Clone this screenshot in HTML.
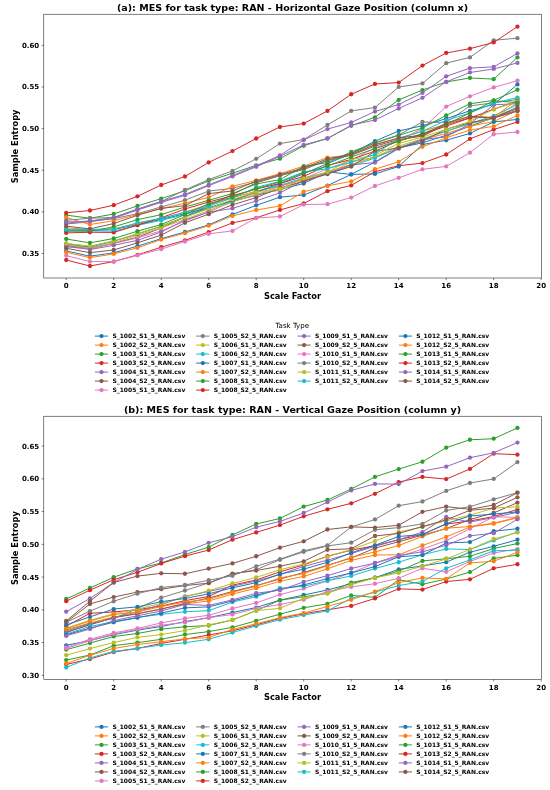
<!DOCTYPE html>
<html><head><meta charset="utf-8"><title>MES RAN</title>
<style>html,body{margin:0;padding:0;background:#fff}svg{display:block}</style></head><body>
<svg width="550" height="790" viewBox="0 0 550 790" style="font-family:'DejaVu Sans','Liberation Sans',sans-serif;fill:#000">
<rect width="550" height="790" fill="#fff"/>
<polyline points="66.20,229.92 89.95,230.75 113.70,229.50 137.45,224.50 161.20,219.50 184.95,213.67 208.70,207.83 232.45,201.16 256.20,195.33 279.95,189.50 303.70,183.49 327.45,171.91 351.20,174.41 374.95,161.99 398.70,147.99 422.45,142.82 446.20,135.32 469.95,126.15 493.70,117.81 517.45,110.31" fill="none" stroke="#1f77b4" stroke-width="1.0" stroke-linejoin="round"/>
<g fill="#1f77b4"><circle cx="66.20" cy="229.92" r="2.15"/><circle cx="89.95" cy="230.75" r="2.15"/><circle cx="113.70" cy="229.50" r="2.15"/><circle cx="137.45" cy="224.50" r="2.15"/><circle cx="161.20" cy="219.50" r="2.15"/><circle cx="184.95" cy="213.67" r="2.15"/><circle cx="208.70" cy="207.83" r="2.15"/><circle cx="232.45" cy="201.16" r="2.15"/><circle cx="256.20" cy="195.33" r="2.15"/><circle cx="279.95" cy="189.50" r="2.15"/><circle cx="303.70" cy="183.49" r="2.15"/><circle cx="327.45" cy="171.91" r="2.15"/><circle cx="351.20" cy="174.41" r="2.15"/><circle cx="374.95" cy="161.99" r="2.15"/><circle cx="398.70" cy="147.99" r="2.15"/><circle cx="422.45" cy="142.82" r="2.15"/><circle cx="446.20" cy="135.32" r="2.15"/><circle cx="469.95" cy="126.15" r="2.15"/><circle cx="493.70" cy="117.81" r="2.15"/><circle cx="517.45" cy="110.31" r="2.15"/></g>
<polyline points="66.20,227.84 89.95,229.50 113.70,228.67 137.45,223.67 161.20,218.67 184.95,212.00 208.70,204.50 232.45,197.83 256.20,191.16 279.95,186.16 303.70,179.49 327.45,171.99 351.20,164.49 374.95,156.99 398.70,147.99 422.45,139.49 446.20,133.48 469.95,126.15 493.70,121.57 517.45,110.31" fill="none" stroke="#ff7f0e" stroke-width="1.0" stroke-linejoin="round"/>
<g fill="#ff7f0e"><circle cx="66.20" cy="227.84" r="2.15"/><circle cx="89.95" cy="229.50" r="2.15"/><circle cx="113.70" cy="228.67" r="2.15"/><circle cx="137.45" cy="223.67" r="2.15"/><circle cx="161.20" cy="218.67" r="2.15"/><circle cx="184.95" cy="212.00" r="2.15"/><circle cx="208.70" cy="204.50" r="2.15"/><circle cx="232.45" cy="197.83" r="2.15"/><circle cx="256.20" cy="191.16" r="2.15"/><circle cx="279.95" cy="186.16" r="2.15"/><circle cx="303.70" cy="179.49" r="2.15"/><circle cx="327.45" cy="171.99" r="2.15"/><circle cx="351.20" cy="164.49" r="2.15"/><circle cx="374.95" cy="156.99" r="2.15"/><circle cx="398.70" cy="147.99" r="2.15"/><circle cx="422.45" cy="139.49" r="2.15"/><circle cx="446.20" cy="133.48" r="2.15"/><circle cx="469.95" cy="126.15" r="2.15"/><circle cx="493.70" cy="121.57" r="2.15"/><circle cx="517.45" cy="110.31" r="2.15"/></g>
<polyline points="66.20,215.08 89.95,218.25 113.70,214.00 137.45,205.92 161.20,198.66 184.95,190.75 208.70,180.91 232.45,173.24 256.20,165.32 279.95,158.66 303.70,145.74 327.45,138.49 351.20,125.73 374.95,117.31 398.70,99.89 422.45,90.06 446.20,81.97 469.95,77.97 493.70,79.14 517.45,57.39" fill="none" stroke="#2ca02c" stroke-width="1.0" stroke-linejoin="round"/>
<g fill="#2ca02c"><circle cx="66.20" cy="215.08" r="2.15"/><circle cx="89.95" cy="218.25" r="2.15"/><circle cx="113.70" cy="214.00" r="2.15"/><circle cx="137.45" cy="205.92" r="2.15"/><circle cx="161.20" cy="198.66" r="2.15"/><circle cx="184.95" cy="190.75" r="2.15"/><circle cx="208.70" cy="180.91" r="2.15"/><circle cx="232.45" cy="173.24" r="2.15"/><circle cx="256.20" cy="165.32" r="2.15"/><circle cx="279.95" cy="158.66" r="2.15"/><circle cx="303.70" cy="145.74" r="2.15"/><circle cx="327.45" cy="138.49" r="2.15"/><circle cx="351.20" cy="125.73" r="2.15"/><circle cx="374.95" cy="117.31" r="2.15"/><circle cx="398.70" cy="99.89" r="2.15"/><circle cx="422.45" cy="90.06" r="2.15"/><circle cx="446.20" cy="81.97" r="2.15"/><circle cx="469.95" cy="77.97" r="2.15"/><circle cx="493.70" cy="79.14" r="2.15"/><circle cx="517.45" cy="57.39" r="2.15"/></g>
<polyline points="66.20,260.01 89.95,266.01 113.70,261.59 137.45,254.93 161.20,247.17 184.95,240.34 208.70,232.09 232.45,222.92 256.20,217.83 279.95,209.92 303.70,203.50 327.45,191.16 351.20,185.41 374.95,171.66 398.70,165.74 422.45,163.07 446.20,154.49 469.95,138.90 493.70,129.57 517.45,121.90" fill="none" stroke="#d62728" stroke-width="1.0" stroke-linejoin="round"/>
<g fill="#d62728"><circle cx="66.20" cy="260.01" r="2.15"/><circle cx="89.95" cy="266.01" r="2.15"/><circle cx="113.70" cy="261.59" r="2.15"/><circle cx="137.45" cy="254.93" r="2.15"/><circle cx="161.20" cy="247.17" r="2.15"/><circle cx="184.95" cy="240.34" r="2.15"/><circle cx="208.70" cy="232.09" r="2.15"/><circle cx="232.45" cy="222.92" r="2.15"/><circle cx="256.20" cy="217.83" r="2.15"/><circle cx="279.95" cy="209.92" r="2.15"/><circle cx="303.70" cy="203.50" r="2.15"/><circle cx="327.45" cy="191.16" r="2.15"/><circle cx="351.20" cy="185.41" r="2.15"/><circle cx="374.95" cy="171.66" r="2.15"/><circle cx="398.70" cy="165.74" r="2.15"/><circle cx="422.45" cy="163.07" r="2.15"/><circle cx="446.20" cy="154.49" r="2.15"/><circle cx="469.95" cy="138.90" r="2.15"/><circle cx="493.70" cy="129.57" r="2.15"/><circle cx="517.45" cy="121.90" r="2.15"/></g>
<polyline points="66.20,224.00 89.95,221.84 113.70,218.33 137.45,210.00 161.20,202.33 184.95,195.33 208.70,185.66 232.45,176.41 256.20,166.82 279.95,156.32 303.70,144.90 327.45,138.49 351.20,125.23 374.95,119.98 398.70,108.48 422.45,97.81 446.20,81.89 469.95,72.47 493.70,68.97 517.45,62.89" fill="none" stroke="#9467bd" stroke-width="1.0" stroke-linejoin="round"/>
<g fill="#9467bd"><circle cx="66.20" cy="224.00" r="2.15"/><circle cx="89.95" cy="221.84" r="2.15"/><circle cx="113.70" cy="218.33" r="2.15"/><circle cx="137.45" cy="210.00" r="2.15"/><circle cx="161.20" cy="202.33" r="2.15"/><circle cx="184.95" cy="195.33" r="2.15"/><circle cx="208.70" cy="185.66" r="2.15"/><circle cx="232.45" cy="176.41" r="2.15"/><circle cx="256.20" cy="166.82" r="2.15"/><circle cx="279.95" cy="156.32" r="2.15"/><circle cx="303.70" cy="144.90" r="2.15"/><circle cx="327.45" cy="138.49" r="2.15"/><circle cx="351.20" cy="125.23" r="2.15"/><circle cx="374.95" cy="119.98" r="2.15"/><circle cx="398.70" cy="108.48" r="2.15"/><circle cx="422.45" cy="97.81" r="2.15"/><circle cx="446.20" cy="81.89" r="2.15"/><circle cx="469.95" cy="72.47" r="2.15"/><circle cx="493.70" cy="68.97" r="2.15"/><circle cx="517.45" cy="62.89" r="2.15"/></g>
<polyline points="66.20,245.34 89.95,248.67 113.70,243.26 137.45,237.26 161.20,227.92 184.95,217.00 208.70,205.33 232.45,194.50 256.20,182.83 279.95,175.74 303.70,169.49 327.45,160.32 351.20,155.32 374.95,146.15 398.70,139.49 422.45,136.15 446.20,124.48 469.95,117.81 493.70,117.40 517.45,108.65" fill="none" stroke="#8c564b" stroke-width="1.0" stroke-linejoin="round"/>
<g fill="#8c564b"><circle cx="66.20" cy="245.34" r="2.15"/><circle cx="89.95" cy="248.67" r="2.15"/><circle cx="113.70" cy="243.26" r="2.15"/><circle cx="137.45" cy="237.26" r="2.15"/><circle cx="161.20" cy="227.92" r="2.15"/><circle cx="184.95" cy="217.00" r="2.15"/><circle cx="208.70" cy="205.33" r="2.15"/><circle cx="232.45" cy="194.50" r="2.15"/><circle cx="256.20" cy="182.83" r="2.15"/><circle cx="279.95" cy="175.74" r="2.15"/><circle cx="303.70" cy="169.49" r="2.15"/><circle cx="327.45" cy="160.32" r="2.15"/><circle cx="351.20" cy="155.32" r="2.15"/><circle cx="374.95" cy="146.15" r="2.15"/><circle cx="398.70" cy="139.49" r="2.15"/><circle cx="422.45" cy="136.15" r="2.15"/><circle cx="446.20" cy="124.48" r="2.15"/><circle cx="469.95" cy="117.81" r="2.15"/><circle cx="493.70" cy="117.40" r="2.15"/><circle cx="517.45" cy="108.65" r="2.15"/></g>
<polyline points="66.20,247.01 89.95,248.67 113.70,243.67 137.45,237.84 161.20,230.92 184.95,221.17 208.70,212.00 232.45,201.50 256.20,195.00 279.95,186.16 303.70,178.66 327.45,168.66 351.20,160.32 374.95,147.82 398.70,140.32 422.45,128.65 446.20,106.56 469.95,96.31 493.70,87.39 517.45,80.72" fill="none" stroke="#e377c2" stroke-width="1.0" stroke-linejoin="round"/>
<g fill="#e377c2"><circle cx="66.20" cy="247.01" r="2.15"/><circle cx="89.95" cy="248.67" r="2.15"/><circle cx="113.70" cy="243.67" r="2.15"/><circle cx="137.45" cy="237.84" r="2.15"/><circle cx="161.20" cy="230.92" r="2.15"/><circle cx="184.95" cy="221.17" r="2.15"/><circle cx="208.70" cy="212.00" r="2.15"/><circle cx="232.45" cy="201.50" r="2.15"/><circle cx="256.20" cy="195.00" r="2.15"/><circle cx="279.95" cy="186.16" r="2.15"/><circle cx="303.70" cy="178.66" r="2.15"/><circle cx="327.45" cy="168.66" r="2.15"/><circle cx="351.20" cy="160.32" r="2.15"/><circle cx="374.95" cy="147.82" r="2.15"/><circle cx="398.70" cy="140.32" r="2.15"/><circle cx="422.45" cy="128.65" r="2.15"/><circle cx="446.20" cy="106.56" r="2.15"/><circle cx="469.95" cy="96.31" r="2.15"/><circle cx="493.70" cy="87.39" r="2.15"/><circle cx="517.45" cy="80.72" r="2.15"/></g>
<polyline points="66.20,222.00 89.95,221.17 113.70,218.67 137.45,213.67 161.20,207.00 184.95,200.16 208.70,191.08 232.45,188.33 256.20,181.99 279.95,175.33 303.70,168.66 327.45,160.32 351.20,153.66 374.95,142.82 398.70,134.90 422.45,121.98 446.20,122.40 469.95,105.90 493.70,102.81 517.45,99.48" fill="none" stroke="#7f7f7f" stroke-width="1.0" stroke-linejoin="round"/>
<g fill="#7f7f7f"><circle cx="66.20" cy="222.00" r="2.15"/><circle cx="89.95" cy="221.17" r="2.15"/><circle cx="113.70" cy="218.67" r="2.15"/><circle cx="137.45" cy="213.67" r="2.15"/><circle cx="161.20" cy="207.00" r="2.15"/><circle cx="184.95" cy="200.16" r="2.15"/><circle cx="208.70" cy="191.08" r="2.15"/><circle cx="232.45" cy="188.33" r="2.15"/><circle cx="256.20" cy="181.99" r="2.15"/><circle cx="279.95" cy="175.33" r="2.15"/><circle cx="303.70" cy="168.66" r="2.15"/><circle cx="327.45" cy="160.32" r="2.15"/><circle cx="351.20" cy="153.66" r="2.15"/><circle cx="374.95" cy="142.82" r="2.15"/><circle cx="398.70" cy="134.90" r="2.15"/><circle cx="422.45" cy="121.98" r="2.15"/><circle cx="446.20" cy="122.40" r="2.15"/><circle cx="469.95" cy="105.90" r="2.15"/><circle cx="493.70" cy="102.81" r="2.15"/><circle cx="517.45" cy="99.48" r="2.15"/></g>
<polyline points="66.20,244.92 89.95,247.84 113.70,242.84 137.45,235.34 161.20,227.84 184.95,219.50 208.70,210.33 232.45,202.00 256.20,193.66 279.95,190.33 303.70,180.33 327.45,173.66 351.20,161.99 374.95,156.99 398.70,146.15 422.45,138.65 446.20,131.15 469.95,123.65 493.70,118.65 517.45,102.81" fill="none" stroke="#bcbd22" stroke-width="1.0" stroke-linejoin="round"/>
<g fill="#bcbd22"><circle cx="66.20" cy="244.92" r="2.15"/><circle cx="89.95" cy="247.84" r="2.15"/><circle cx="113.70" cy="242.84" r="2.15"/><circle cx="137.45" cy="235.34" r="2.15"/><circle cx="161.20" cy="227.84" r="2.15"/><circle cx="184.95" cy="219.50" r="2.15"/><circle cx="208.70" cy="210.33" r="2.15"/><circle cx="232.45" cy="202.00" r="2.15"/><circle cx="256.20" cy="193.66" r="2.15"/><circle cx="279.95" cy="190.33" r="2.15"/><circle cx="303.70" cy="180.33" r="2.15"/><circle cx="327.45" cy="173.66" r="2.15"/><circle cx="351.20" cy="161.99" r="2.15"/><circle cx="374.95" cy="156.99" r="2.15"/><circle cx="398.70" cy="146.15" r="2.15"/><circle cx="422.45" cy="138.65" r="2.15"/><circle cx="446.20" cy="131.15" r="2.15"/><circle cx="469.95" cy="123.65" r="2.15"/><circle cx="493.70" cy="118.65" r="2.15"/><circle cx="517.45" cy="102.81" r="2.15"/></g>
<polyline points="66.20,230.75 89.95,230.75 113.70,231.17 137.45,225.34 161.20,220.34 184.95,214.50 208.70,208.67 232.45,201.16 256.20,192.00 279.95,185.33 303.70,177.83 327.45,172.83 351.20,166.16 374.95,157.99 398.70,147.82 422.45,139.49 446.20,131.15 469.95,123.65 493.70,115.81 517.45,104.48" fill="none" stroke="#17becf" stroke-width="1.0" stroke-linejoin="round"/>
<g fill="#17becf"><circle cx="66.20" cy="230.75" r="2.15"/><circle cx="89.95" cy="230.75" r="2.15"/><circle cx="113.70" cy="231.17" r="2.15"/><circle cx="137.45" cy="225.34" r="2.15"/><circle cx="161.20" cy="220.34" r="2.15"/><circle cx="184.95" cy="214.50" r="2.15"/><circle cx="208.70" cy="208.67" r="2.15"/><circle cx="232.45" cy="201.16" r="2.15"/><circle cx="256.20" cy="192.00" r="2.15"/><circle cx="279.95" cy="185.33" r="2.15"/><circle cx="303.70" cy="177.83" r="2.15"/><circle cx="327.45" cy="172.83" r="2.15"/><circle cx="351.20" cy="166.16" r="2.15"/><circle cx="374.95" cy="157.99" r="2.15"/><circle cx="398.70" cy="147.82" r="2.15"/><circle cx="422.45" cy="139.49" r="2.15"/><circle cx="446.20" cy="131.15" r="2.15"/><circle cx="469.95" cy="123.65" r="2.15"/><circle cx="493.70" cy="115.81" r="2.15"/><circle cx="517.45" cy="104.48" r="2.15"/></g>
<polyline points="66.20,243.67 89.95,247.01 113.70,241.17 137.45,234.00 161.20,226.17 184.95,217.00 208.70,207.83 232.45,200.33 256.20,192.00 279.95,183.66 303.70,173.66 327.45,163.66 351.20,153.66 374.95,141.15 398.70,130.98 422.45,125.73 446.20,118.65 469.95,110.81 493.70,104.48 517.45,84.39" fill="none" stroke="#1f77b4" stroke-width="1.0" stroke-linejoin="round"/>
<g fill="#1f77b4"><circle cx="66.20" cy="243.67" r="2.15"/><circle cx="89.95" cy="247.01" r="2.15"/><circle cx="113.70" cy="241.17" r="2.15"/><circle cx="137.45" cy="234.00" r="2.15"/><circle cx="161.20" cy="226.17" r="2.15"/><circle cx="184.95" cy="217.00" r="2.15"/><circle cx="208.70" cy="207.83" r="2.15"/><circle cx="232.45" cy="200.33" r="2.15"/><circle cx="256.20" cy="192.00" r="2.15"/><circle cx="279.95" cy="183.66" r="2.15"/><circle cx="303.70" cy="173.66" r="2.15"/><circle cx="327.45" cy="163.66" r="2.15"/><circle cx="351.20" cy="153.66" r="2.15"/><circle cx="374.95" cy="141.15" r="2.15"/><circle cx="398.70" cy="130.98" r="2.15"/><circle cx="422.45" cy="125.73" r="2.15"/><circle cx="446.20" cy="118.65" r="2.15"/><circle cx="469.95" cy="110.81" r="2.15"/><circle cx="493.70" cy="104.48" r="2.15"/><circle cx="517.45" cy="84.39" r="2.15"/></g>
<polyline points="66.20,217.50 89.95,224.50 113.70,220.75 137.45,214.50 161.20,208.67 184.95,203.16 208.70,197.41 232.45,186.33 256.20,180.33 279.95,173.66 303.70,166.16 327.45,157.57 351.20,154.91 374.95,144.49 398.70,138.65 422.45,131.15 446.20,124.48 469.95,116.15 493.70,117.40 517.45,99.56" fill="none" stroke="#ff7f0e" stroke-width="1.0" stroke-linejoin="round"/>
<g fill="#ff7f0e"><circle cx="66.20" cy="217.50" r="2.15"/><circle cx="89.95" cy="224.50" r="2.15"/><circle cx="113.70" cy="220.75" r="2.15"/><circle cx="137.45" cy="214.50" r="2.15"/><circle cx="161.20" cy="208.67" r="2.15"/><circle cx="184.95" cy="203.16" r="2.15"/><circle cx="208.70" cy="197.41" r="2.15"/><circle cx="232.45" cy="186.33" r="2.15"/><circle cx="256.20" cy="180.33" r="2.15"/><circle cx="279.95" cy="173.66" r="2.15"/><circle cx="303.70" cy="166.16" r="2.15"/><circle cx="327.45" cy="157.57" r="2.15"/><circle cx="351.20" cy="154.91" r="2.15"/><circle cx="374.95" cy="144.49" r="2.15"/><circle cx="398.70" cy="138.65" r="2.15"/><circle cx="422.45" cy="131.15" r="2.15"/><circle cx="446.20" cy="124.48" r="2.15"/><circle cx="469.95" cy="116.15" r="2.15"/><circle cx="493.70" cy="117.40" r="2.15"/><circle cx="517.45" cy="99.56" r="2.15"/></g>
<polyline points="66.20,231.17 89.95,231.17 113.70,226.84 137.45,219.67 161.20,214.67 184.95,207.00 208.70,200.33 232.45,193.50 256.20,183.99 279.95,179.58 303.70,166.41 327.45,162.57 351.20,151.90 374.95,143.07 398.70,135.32 422.45,127.98 446.20,115.40 469.95,103.73 493.70,100.39 517.45,89.73" fill="none" stroke="#2ca02c" stroke-width="1.0" stroke-linejoin="round"/>
<g fill="#2ca02c"><circle cx="66.20" cy="231.17" r="2.15"/><circle cx="89.95" cy="231.17" r="2.15"/><circle cx="113.70" cy="226.84" r="2.15"/><circle cx="137.45" cy="219.67" r="2.15"/><circle cx="161.20" cy="214.67" r="2.15"/><circle cx="184.95" cy="207.00" r="2.15"/><circle cx="208.70" cy="200.33" r="2.15"/><circle cx="232.45" cy="193.50" r="2.15"/><circle cx="256.20" cy="183.99" r="2.15"/><circle cx="279.95" cy="179.58" r="2.15"/><circle cx="303.70" cy="166.41" r="2.15"/><circle cx="327.45" cy="162.57" r="2.15"/><circle cx="351.20" cy="151.90" r="2.15"/><circle cx="374.95" cy="143.07" r="2.15"/><circle cx="398.70" cy="135.32" r="2.15"/><circle cx="422.45" cy="127.98" r="2.15"/><circle cx="446.20" cy="115.40" r="2.15"/><circle cx="469.95" cy="103.73" r="2.15"/><circle cx="493.70" cy="100.39" r="2.15"/><circle cx="517.45" cy="89.73" r="2.15"/></g>
<polyline points="66.20,232.92 89.95,232.25 113.70,232.42 137.45,225.17 161.20,217.83 184.95,209.00 208.70,202.00 232.45,195.75 256.20,189.00 279.95,183.49 303.70,176.33 327.45,165.41 351.20,159.49 374.95,151.15 398.70,140.90 422.45,134.48 446.20,126.15 469.95,117.98 493.70,109.23 517.45,101.14" fill="none" stroke="#d62728" stroke-width="1.0" stroke-linejoin="round"/>
<g fill="#d62728"><circle cx="66.20" cy="232.92" r="2.15"/><circle cx="89.95" cy="232.25" r="2.15"/><circle cx="113.70" cy="232.42" r="2.15"/><circle cx="137.45" cy="225.17" r="2.15"/><circle cx="161.20" cy="217.83" r="2.15"/><circle cx="184.95" cy="209.00" r="2.15"/><circle cx="208.70" cy="202.00" r="2.15"/><circle cx="232.45" cy="195.75" r="2.15"/><circle cx="256.20" cy="189.00" r="2.15"/><circle cx="279.95" cy="183.49" r="2.15"/><circle cx="303.70" cy="176.33" r="2.15"/><circle cx="327.45" cy="165.41" r="2.15"/><circle cx="351.20" cy="159.49" r="2.15"/><circle cx="374.95" cy="151.15" r="2.15"/><circle cx="398.70" cy="140.90" r="2.15"/><circle cx="422.45" cy="134.48" r="2.15"/><circle cx="446.20" cy="126.15" r="2.15"/><circle cx="469.95" cy="117.98" r="2.15"/><circle cx="493.70" cy="109.23" r="2.15"/><circle cx="517.45" cy="101.14" r="2.15"/></g>
<polyline points="66.20,246.17 89.95,249.51 113.70,245.34 137.45,240.34 161.20,232.00 184.95,220.00 208.70,212.17 232.45,208.42 256.20,200.91 279.95,192.83 303.70,180.74 327.45,173.66 351.20,164.91 374.95,162.57 398.70,148.65 422.45,139.49 446.20,136.90 469.95,123.98 493.70,104.81 517.45,103.64" fill="none" stroke="#9467bd" stroke-width="1.0" stroke-linejoin="round"/>
<g fill="#9467bd"><circle cx="66.20" cy="246.17" r="2.15"/><circle cx="89.95" cy="249.51" r="2.15"/><circle cx="113.70" cy="245.34" r="2.15"/><circle cx="137.45" cy="240.34" r="2.15"/><circle cx="161.20" cy="232.00" r="2.15"/><circle cx="184.95" cy="220.00" r="2.15"/><circle cx="208.70" cy="212.17" r="2.15"/><circle cx="232.45" cy="208.42" r="2.15"/><circle cx="256.20" cy="200.91" r="2.15"/><circle cx="279.95" cy="192.83" r="2.15"/><circle cx="303.70" cy="180.74" r="2.15"/><circle cx="327.45" cy="173.66" r="2.15"/><circle cx="351.20" cy="164.91" r="2.15"/><circle cx="374.95" cy="162.57" r="2.15"/><circle cx="398.70" cy="148.65" r="2.15"/><circle cx="422.45" cy="139.49" r="2.15"/><circle cx="446.20" cy="136.90" r="2.15"/><circle cx="469.95" cy="123.98" r="2.15"/><circle cx="493.70" cy="104.81" r="2.15"/><circle cx="517.45" cy="103.64" r="2.15"/></g>
<polyline points="66.20,248.26 89.95,252.67 113.70,250.01 137.45,242.84 161.20,235.09 184.95,222.84 208.70,214.17 232.45,204.83 256.20,197.58 279.95,187.83 303.70,181.33 327.45,174.08 351.20,166.49 374.95,151.32 398.70,147.99 422.45,141.32 446.20,129.07 469.95,122.82 493.70,117.98 517.45,111.15" fill="none" stroke="#8c564b" stroke-width="1.0" stroke-linejoin="round"/>
<g fill="#8c564b"><circle cx="66.20" cy="248.26" r="2.15"/><circle cx="89.95" cy="252.67" r="2.15"/><circle cx="113.70" cy="250.01" r="2.15"/><circle cx="137.45" cy="242.84" r="2.15"/><circle cx="161.20" cy="235.09" r="2.15"/><circle cx="184.95" cy="222.84" r="2.15"/><circle cx="208.70" cy="214.17" r="2.15"/><circle cx="232.45" cy="204.83" r="2.15"/><circle cx="256.20" cy="197.58" r="2.15"/><circle cx="279.95" cy="187.83" r="2.15"/><circle cx="303.70" cy="181.33" r="2.15"/><circle cx="327.45" cy="174.08" r="2.15"/><circle cx="351.20" cy="166.49" r="2.15"/><circle cx="374.95" cy="151.32" r="2.15"/><circle cx="398.70" cy="147.99" r="2.15"/><circle cx="422.45" cy="141.32" r="2.15"/><circle cx="446.20" cy="129.07" r="2.15"/><circle cx="469.95" cy="122.82" r="2.15"/><circle cx="493.70" cy="117.98" r="2.15"/><circle cx="517.45" cy="111.15" r="2.15"/></g>
<polyline points="66.20,255.59 89.95,261.59 113.70,261.59 137.45,255.34 161.20,249.17 184.95,241.51 208.70,233.84 232.45,230.92 256.20,218.08 279.95,216.50 303.70,204.58 327.45,204.17 351.20,197.58 374.95,185.99 398.70,177.83 422.45,169.32 446.20,166.41 469.95,152.65 493.70,134.23 517.45,131.98" fill="none" stroke="#e377c2" stroke-width="1.0" stroke-linejoin="round"/>
<g fill="#e377c2"><circle cx="66.20" cy="255.59" r="2.15"/><circle cx="89.95" cy="261.59" r="2.15"/><circle cx="113.70" cy="261.59" r="2.15"/><circle cx="137.45" cy="255.34" r="2.15"/><circle cx="161.20" cy="249.17" r="2.15"/><circle cx="184.95" cy="241.51" r="2.15"/><circle cx="208.70" cy="233.84" r="2.15"/><circle cx="232.45" cy="230.92" r="2.15"/><circle cx="256.20" cy="218.08" r="2.15"/><circle cx="279.95" cy="216.50" r="2.15"/><circle cx="303.70" cy="204.58" r="2.15"/><circle cx="327.45" cy="204.17" r="2.15"/><circle cx="351.20" cy="197.58" r="2.15"/><circle cx="374.95" cy="185.99" r="2.15"/><circle cx="398.70" cy="177.83" r="2.15"/><circle cx="422.45" cy="169.32" r="2.15"/><circle cx="446.20" cy="166.41" r="2.15"/><circle cx="469.95" cy="152.65" r="2.15"/><circle cx="493.70" cy="134.23" r="2.15"/><circle cx="517.45" cy="131.98" r="2.15"/></g>
<polyline points="66.20,220.34 89.95,218.17 113.70,217.50 137.45,209.17 161.20,201.50 184.95,190.00 208.70,179.58 232.45,170.91 256.20,158.82 279.95,143.57 303.70,139.57 327.45,124.98 351.20,110.90 374.95,107.56 398.70,86.97 422.45,83.47 446.20,63.14 469.95,57.39 493.70,40.30 517.45,38.13" fill="none" stroke="#7f7f7f" stroke-width="1.0" stroke-linejoin="round"/>
<g fill="#7f7f7f"><circle cx="66.20" cy="220.34" r="2.15"/><circle cx="89.95" cy="218.17" r="2.15"/><circle cx="113.70" cy="217.50" r="2.15"/><circle cx="137.45" cy="209.17" r="2.15"/><circle cx="161.20" cy="201.50" r="2.15"/><circle cx="184.95" cy="190.00" r="2.15"/><circle cx="208.70" cy="179.58" r="2.15"/><circle cx="232.45" cy="170.91" r="2.15"/><circle cx="256.20" cy="158.82" r="2.15"/><circle cx="279.95" cy="143.57" r="2.15"/><circle cx="303.70" cy="139.57" r="2.15"/><circle cx="327.45" cy="124.98" r="2.15"/><circle cx="351.20" cy="110.90" r="2.15"/><circle cx="374.95" cy="107.56" r="2.15"/><circle cx="398.70" cy="86.97" r="2.15"/><circle cx="422.45" cy="83.47" r="2.15"/><circle cx="446.20" cy="63.14" r="2.15"/><circle cx="469.95" cy="57.39" r="2.15"/><circle cx="493.70" cy="40.30" r="2.15"/><circle cx="517.45" cy="38.13" r="2.15"/></g>
<polyline points="66.20,243.42 89.95,246.17 113.70,240.92 137.45,233.67 161.20,226.17 184.95,217.33 208.70,208.50 232.45,199.58 256.20,191.91 279.95,189.00 303.70,178.49 327.45,171.99 351.20,159.41 374.95,155.32 398.70,143.40 422.45,136.99 446.20,129.48 469.95,121.32 493.70,109.23 517.45,101.48" fill="none" stroke="#bcbd22" stroke-width="1.0" stroke-linejoin="round"/>
<g fill="#bcbd22"><circle cx="66.20" cy="243.42" r="2.15"/><circle cx="89.95" cy="246.17" r="2.15"/><circle cx="113.70" cy="240.92" r="2.15"/><circle cx="137.45" cy="233.67" r="2.15"/><circle cx="161.20" cy="226.17" r="2.15"/><circle cx="184.95" cy="217.33" r="2.15"/><circle cx="208.70" cy="208.50" r="2.15"/><circle cx="232.45" cy="199.58" r="2.15"/><circle cx="256.20" cy="191.91" r="2.15"/><circle cx="279.95" cy="189.00" r="2.15"/><circle cx="303.70" cy="178.49" r="2.15"/><circle cx="327.45" cy="171.99" r="2.15"/><circle cx="351.20" cy="159.41" r="2.15"/><circle cx="374.95" cy="155.32" r="2.15"/><circle cx="398.70" cy="143.40" r="2.15"/><circle cx="422.45" cy="136.99" r="2.15"/><circle cx="446.20" cy="129.48" r="2.15"/><circle cx="469.95" cy="121.32" r="2.15"/><circle cx="493.70" cy="109.23" r="2.15"/><circle cx="517.45" cy="101.48" r="2.15"/></g>
<polyline points="66.20,229.67 89.95,229.50 113.70,229.59 137.45,222.75 161.20,218.33 184.95,212.33 208.70,206.17 232.45,197.91 256.20,187.41 279.95,181.33 303.70,171.91 327.45,168.74 351.20,162.07 374.95,154.41 398.70,138.07 422.45,131.32 446.20,120.32 469.95,112.98 493.70,103.14 517.45,97.56" fill="none" stroke="#17becf" stroke-width="1.0" stroke-linejoin="round"/>
<g fill="#17becf"><circle cx="66.20" cy="229.67" r="2.15"/><circle cx="89.95" cy="229.50" r="2.15"/><circle cx="113.70" cy="229.59" r="2.15"/><circle cx="137.45" cy="222.75" r="2.15"/><circle cx="161.20" cy="218.33" r="2.15"/><circle cx="184.95" cy="212.33" r="2.15"/><circle cx="208.70" cy="206.17" r="2.15"/><circle cx="232.45" cy="197.91" r="2.15"/><circle cx="256.20" cy="187.41" r="2.15"/><circle cx="279.95" cy="181.33" r="2.15"/><circle cx="303.70" cy="171.91" r="2.15"/><circle cx="327.45" cy="168.74" r="2.15"/><circle cx="351.20" cy="162.07" r="2.15"/><circle cx="374.95" cy="154.41" r="2.15"/><circle cx="398.70" cy="138.07" r="2.15"/><circle cx="422.45" cy="131.32" r="2.15"/><circle cx="446.20" cy="120.32" r="2.15"/><circle cx="469.95" cy="112.98" r="2.15"/><circle cx="493.70" cy="103.14" r="2.15"/><circle cx="517.45" cy="97.56" r="2.15"/></g>
<polyline points="66.20,250.92 89.95,256.18 113.70,252.84 137.45,246.17 161.20,238.67 184.95,232.00 208.70,224.92 232.45,214.50 256.20,205.33 279.95,197.16 303.70,195.00 327.45,185.66 351.20,174.41 374.95,173.91 398.70,166.49 422.45,144.57 446.20,140.24 469.95,133.40 493.70,121.90 517.45,119.40" fill="none" stroke="#1f77b4" stroke-width="1.0" stroke-linejoin="round"/>
<g fill="#1f77b4"><circle cx="66.20" cy="250.92" r="2.15"/><circle cx="89.95" cy="256.18" r="2.15"/><circle cx="113.70" cy="252.84" r="2.15"/><circle cx="137.45" cy="246.17" r="2.15"/><circle cx="161.20" cy="238.67" r="2.15"/><circle cx="184.95" cy="232.00" r="2.15"/><circle cx="208.70" cy="224.92" r="2.15"/><circle cx="232.45" cy="214.50" r="2.15"/><circle cx="256.20" cy="205.33" r="2.15"/><circle cx="279.95" cy="197.16" r="2.15"/><circle cx="303.70" cy="195.00" r="2.15"/><circle cx="327.45" cy="185.66" r="2.15"/><circle cx="351.20" cy="174.41" r="2.15"/><circle cx="374.95" cy="173.91" r="2.15"/><circle cx="398.70" cy="166.49" r="2.15"/><circle cx="422.45" cy="144.57" r="2.15"/><circle cx="446.20" cy="140.24" r="2.15"/><circle cx="469.95" cy="133.40" r="2.15"/><circle cx="493.70" cy="121.90" r="2.15"/><circle cx="517.45" cy="119.40" r="2.15"/></g>
<polyline points="66.20,252.26 89.95,257.68 113.70,253.93 137.45,247.84 161.20,239.51 184.95,233.17 208.70,225.67 232.45,215.92 256.20,210.00 279.95,206.00 303.70,191.75 327.45,185.91 351.20,181.33 374.95,169.16 398.70,161.82 422.45,146.82 446.20,137.82 469.95,130.07 493.70,126.32 517.45,115.48" fill="none" stroke="#ff7f0e" stroke-width="1.0" stroke-linejoin="round"/>
<g fill="#ff7f0e"><circle cx="66.20" cy="252.26" r="2.15"/><circle cx="89.95" cy="257.68" r="2.15"/><circle cx="113.70" cy="253.93" r="2.15"/><circle cx="137.45" cy="247.84" r="2.15"/><circle cx="161.20" cy="239.51" r="2.15"/><circle cx="184.95" cy="233.17" r="2.15"/><circle cx="208.70" cy="225.67" r="2.15"/><circle cx="232.45" cy="215.92" r="2.15"/><circle cx="256.20" cy="210.00" r="2.15"/><circle cx="279.95" cy="206.00" r="2.15"/><circle cx="303.70" cy="191.75" r="2.15"/><circle cx="327.45" cy="185.91" r="2.15"/><circle cx="351.20" cy="181.33" r="2.15"/><circle cx="374.95" cy="169.16" r="2.15"/><circle cx="398.70" cy="161.82" r="2.15"/><circle cx="422.45" cy="146.82" r="2.15"/><circle cx="446.20" cy="137.82" r="2.15"/><circle cx="469.95" cy="130.07" r="2.15"/><circle cx="493.70" cy="126.32" r="2.15"/><circle cx="517.45" cy="115.48" r="2.15"/></g>
<polyline points="66.20,239.01 89.95,242.84 113.70,238.51 137.45,231.17 161.20,224.59 184.95,214.50 208.70,203.67 232.45,197.00 256.20,188.66 279.95,181.99 303.70,172.83 327.45,166.16 351.20,156.99 374.95,148.65 398.70,141.15 422.45,133.65 446.20,124.48 469.95,112.81 493.70,100.73 517.45,102.64" fill="none" stroke="#2ca02c" stroke-width="1.0" stroke-linejoin="round"/>
<g fill="#2ca02c"><circle cx="66.20" cy="239.01" r="2.15"/><circle cx="89.95" cy="242.84" r="2.15"/><circle cx="113.70" cy="238.51" r="2.15"/><circle cx="137.45" cy="231.17" r="2.15"/><circle cx="161.20" cy="224.59" r="2.15"/><circle cx="184.95" cy="214.50" r="2.15"/><circle cx="208.70" cy="203.67" r="2.15"/><circle cx="232.45" cy="197.00" r="2.15"/><circle cx="256.20" cy="188.66" r="2.15"/><circle cx="279.95" cy="181.99" r="2.15"/><circle cx="303.70" cy="172.83" r="2.15"/><circle cx="327.45" cy="166.16" r="2.15"/><circle cx="351.20" cy="156.99" r="2.15"/><circle cx="374.95" cy="148.65" r="2.15"/><circle cx="398.70" cy="141.15" r="2.15"/><circle cx="422.45" cy="133.65" r="2.15"/><circle cx="446.20" cy="124.48" r="2.15"/><circle cx="469.95" cy="112.81" r="2.15"/><circle cx="493.70" cy="100.73" r="2.15"/><circle cx="517.45" cy="102.64" r="2.15"/></g>
<polyline points="66.20,212.83 89.95,210.50 113.70,205.17 137.45,196.33 161.20,184.99 184.95,176.49 208.70,162.41 232.45,151.07 256.20,138.49 279.95,126.98 303.70,123.57 327.45,110.90 351.20,94.23 374.95,83.97 398.70,82.56 422.45,65.55 446.20,52.97 469.95,48.63 493.70,42.47 517.45,26.63" fill="none" stroke="#d62728" stroke-width="1.0" stroke-linejoin="round"/>
<g fill="#d62728"><circle cx="66.20" cy="212.83" r="2.15"/><circle cx="89.95" cy="210.50" r="2.15"/><circle cx="113.70" cy="205.17" r="2.15"/><circle cx="137.45" cy="196.33" r="2.15"/><circle cx="161.20" cy="184.99" r="2.15"/><circle cx="184.95" cy="176.49" r="2.15"/><circle cx="208.70" cy="162.41" r="2.15"/><circle cx="232.45" cy="151.07" r="2.15"/><circle cx="256.20" cy="138.49" r="2.15"/><circle cx="279.95" cy="126.98" r="2.15"/><circle cx="303.70" cy="123.57" r="2.15"/><circle cx="327.45" cy="110.90" r="2.15"/><circle cx="351.20" cy="94.23" r="2.15"/><circle cx="374.95" cy="83.97" r="2.15"/><circle cx="398.70" cy="82.56" r="2.15"/><circle cx="422.45" cy="65.55" r="2.15"/><circle cx="446.20" cy="52.97" r="2.15"/><circle cx="469.95" cy="48.63" r="2.15"/><circle cx="493.70" cy="42.47" r="2.15"/><circle cx="517.45" cy="26.63" r="2.15"/></g>
<polyline points="66.20,223.17 89.95,220.92 113.70,217.50 137.45,209.17 161.20,201.50 184.95,194.41 208.70,184.83 232.45,175.58 256.20,165.99 279.95,155.41 303.70,139.99 327.45,129.07 351.20,122.48 374.95,111.48 398.70,104.56 422.45,92.89 446.20,76.31 469.95,68.14 493.70,66.80 517.45,53.47" fill="none" stroke="#9467bd" stroke-width="1.0" stroke-linejoin="round"/>
<g fill="#9467bd"><circle cx="66.20" cy="223.17" r="2.15"/><circle cx="89.95" cy="220.92" r="2.15"/><circle cx="113.70" cy="217.50" r="2.15"/><circle cx="137.45" cy="209.17" r="2.15"/><circle cx="161.20" cy="201.50" r="2.15"/><circle cx="184.95" cy="194.41" r="2.15"/><circle cx="208.70" cy="184.83" r="2.15"/><circle cx="232.45" cy="175.58" r="2.15"/><circle cx="256.20" cy="165.99" r="2.15"/><circle cx="279.95" cy="155.41" r="2.15"/><circle cx="303.70" cy="139.99" r="2.15"/><circle cx="327.45" cy="129.07" r="2.15"/><circle cx="351.20" cy="122.48" r="2.15"/><circle cx="374.95" cy="111.48" r="2.15"/><circle cx="398.70" cy="104.56" r="2.15"/><circle cx="422.45" cy="92.89" r="2.15"/><circle cx="446.20" cy="76.31" r="2.15"/><circle cx="469.95" cy="68.14" r="2.15"/><circle cx="493.70" cy="66.80" r="2.15"/><circle cx="517.45" cy="53.47" r="2.15"/></g>
<polyline points="66.20,226.17 89.95,228.84 113.70,223.59 137.45,215.25 161.20,208.42 184.95,205.67 208.70,193.58 232.45,191.00 256.20,181.08 279.95,174.58 303.70,167.99 327.45,158.82 351.20,154.41 374.95,144.74 398.70,137.82 422.45,135.23 446.20,122.82 469.95,116.31 493.70,117.98 517.45,106.98" fill="none" stroke="#8c564b" stroke-width="1.0" stroke-linejoin="round"/>
<g fill="#8c564b"><circle cx="66.20" cy="226.17" r="2.15"/><circle cx="89.95" cy="228.84" r="2.15"/><circle cx="113.70" cy="223.59" r="2.15"/><circle cx="137.45" cy="215.25" r="2.15"/><circle cx="161.20" cy="208.42" r="2.15"/><circle cx="184.95" cy="205.67" r="2.15"/><circle cx="208.70" cy="193.58" r="2.15"/><circle cx="232.45" cy="191.00" r="2.15"/><circle cx="256.20" cy="181.08" r="2.15"/><circle cx="279.95" cy="174.58" r="2.15"/><circle cx="303.70" cy="167.99" r="2.15"/><circle cx="327.45" cy="158.82" r="2.15"/><circle cx="351.20" cy="154.41" r="2.15"/><circle cx="374.95" cy="144.74" r="2.15"/><circle cx="398.70" cy="137.82" r="2.15"/><circle cx="422.45" cy="135.23" r="2.15"/><circle cx="446.20" cy="122.82" r="2.15"/><circle cx="469.95" cy="116.31" r="2.15"/><circle cx="493.70" cy="117.98" r="2.15"/><circle cx="517.45" cy="106.98" r="2.15"/></g>
<rect x="43.8" y="14.2" width="497.49999999999994" height="263.8" fill="none" stroke="#000" stroke-width="0.5"/>
<line x1="66.20" y1="278.0" x2="66.20" y2="280.1" stroke="#000" stroke-width="0.5"/>
<text x="66.20" y="287.7" text-anchor="middle" font-size="7.0" font-weight="bold">0</text>
<line x1="113.70" y1="278.0" x2="113.70" y2="280.1" stroke="#000" stroke-width="0.5"/>
<text x="113.70" y="287.7" text-anchor="middle" font-size="7.0" font-weight="bold">2</text>
<line x1="161.20" y1="278.0" x2="161.20" y2="280.1" stroke="#000" stroke-width="0.5"/>
<text x="161.20" y="287.7" text-anchor="middle" font-size="7.0" font-weight="bold">4</text>
<line x1="208.70" y1="278.0" x2="208.70" y2="280.1" stroke="#000" stroke-width="0.5"/>
<text x="208.70" y="287.7" text-anchor="middle" font-size="7.0" font-weight="bold">6</text>
<line x1="256.20" y1="278.0" x2="256.20" y2="280.1" stroke="#000" stroke-width="0.5"/>
<text x="256.20" y="287.7" text-anchor="middle" font-size="7.0" font-weight="bold">8</text>
<line x1="303.70" y1="278.0" x2="303.70" y2="280.1" stroke="#000" stroke-width="0.5"/>
<text x="303.70" y="287.7" text-anchor="middle" font-size="7.0" font-weight="bold">10</text>
<line x1="351.20" y1="278.0" x2="351.20" y2="280.1" stroke="#000" stroke-width="0.5"/>
<text x="351.20" y="287.7" text-anchor="middle" font-size="7.0" font-weight="bold">12</text>
<line x1="398.70" y1="278.0" x2="398.70" y2="280.1" stroke="#000" stroke-width="0.5"/>
<text x="398.70" y="287.7" text-anchor="middle" font-size="7.0" font-weight="bold">14</text>
<line x1="446.20" y1="278.0" x2="446.20" y2="280.1" stroke="#000" stroke-width="0.5"/>
<text x="446.20" y="287.7" text-anchor="middle" font-size="7.0" font-weight="bold">16</text>
<line x1="493.70" y1="278.0" x2="493.70" y2="280.1" stroke="#000" stroke-width="0.5"/>
<text x="493.70" y="287.7" text-anchor="middle" font-size="7.0" font-weight="bold">18</text>
<line x1="541.20" y1="278.0" x2="541.20" y2="280.1" stroke="#000" stroke-width="0.5"/>
<text x="541.20" y="287.7" text-anchor="middle" font-size="7.0" font-weight="bold">20</text>
<line x1="41.699999999999996" y1="253.46" x2="43.8" y2="253.46" stroke="#000" stroke-width="0.5"/>
<text x="39.2" y="255.91" text-anchor="end" font-size="7.0" font-weight="bold">0.35</text>
<line x1="41.699999999999996" y1="211.84" x2="43.8" y2="211.84" stroke="#000" stroke-width="0.5"/>
<text x="39.2" y="214.29" text-anchor="end" font-size="7.0" font-weight="bold">0.40</text>
<line x1="41.699999999999996" y1="170.22" x2="43.8" y2="170.22" stroke="#000" stroke-width="0.5"/>
<text x="39.2" y="172.67" text-anchor="end" font-size="7.0" font-weight="bold">0.45</text>
<line x1="41.699999999999996" y1="128.60" x2="43.8" y2="128.60" stroke="#000" stroke-width="0.5"/>
<text x="39.2" y="131.05" text-anchor="end" font-size="7.0" font-weight="bold">0.50</text>
<line x1="41.699999999999996" y1="86.98" x2="43.8" y2="86.98" stroke="#000" stroke-width="0.5"/>
<text x="39.2" y="89.43" text-anchor="end" font-size="7.0" font-weight="bold">0.55</text>
<line x1="41.699999999999996" y1="45.36" x2="43.8" y2="45.36" stroke="#000" stroke-width="0.5"/>
<text x="39.2" y="47.81" text-anchor="end" font-size="7.0" font-weight="bold">0.60</text>
<text x="292.5" y="10.9" text-anchor="middle" font-size="9.55" font-weight="bold">(a): MES for task type: RAN - Horizontal Gaze Position (column x)</text>
<text x="292.5" y="298.5" text-anchor="middle" font-size="8.25" font-weight="bold">Scale Factor</text>
<text transform="translate(17.8,146.4) rotate(-90)" text-anchor="middle" font-size="8.25" font-weight="bold">Sample Entropy</text>
<line x1="94.9" y1="336.1" x2="108.1" y2="336.1" stroke="#1f77b4" stroke-width="1.0"/>
<circle cx="101.5" cy="336.1" r="2.15" fill="#1f77b4"/>
<text x="112.4" y="338.20" font-size="5.98" font-weight="bold">S_1002_S1_5_RAN.csv</text>
<line x1="94.9" y1="345.1" x2="108.1" y2="345.1" stroke="#ff7f0e" stroke-width="1.0"/>
<circle cx="101.5" cy="345.1" r="2.15" fill="#ff7f0e"/>
<text x="112.4" y="347.20" font-size="5.98" font-weight="bold">S_1002_S2_5_RAN.csv</text>
<line x1="94.9" y1="354.1" x2="108.1" y2="354.1" stroke="#2ca02c" stroke-width="1.0"/>
<circle cx="101.5" cy="354.1" r="2.15" fill="#2ca02c"/>
<text x="112.4" y="356.20" font-size="5.98" font-weight="bold">S_1003_S1_5_RAN.csv</text>
<line x1="94.9" y1="363.1" x2="108.1" y2="363.1" stroke="#d62728" stroke-width="1.0"/>
<circle cx="101.5" cy="363.1" r="2.15" fill="#d62728"/>
<text x="112.4" y="365.20" font-size="5.98" font-weight="bold">S_1003_S2_5_RAN.csv</text>
<line x1="94.9" y1="372.1" x2="108.1" y2="372.1" stroke="#9467bd" stroke-width="1.0"/>
<circle cx="101.5" cy="372.1" r="2.15" fill="#9467bd"/>
<text x="112.4" y="374.20" font-size="5.98" font-weight="bold">S_1004_S1_5_RAN.csv</text>
<line x1="94.9" y1="381.1" x2="108.1" y2="381.1" stroke="#8c564b" stroke-width="1.0"/>
<circle cx="101.5" cy="381.1" r="2.15" fill="#8c564b"/>
<text x="112.4" y="383.20" font-size="5.98" font-weight="bold">S_1004_S2_5_RAN.csv</text>
<line x1="94.9" y1="390.1" x2="108.1" y2="390.1" stroke="#e377c2" stroke-width="1.0"/>
<circle cx="101.5" cy="390.1" r="2.15" fill="#e377c2"/>
<text x="112.4" y="392.20" font-size="5.98" font-weight="bold">S_1005_S1_5_RAN.csv</text>
<line x1="196.2" y1="336.1" x2="209.4" y2="336.1" stroke="#7f7f7f" stroke-width="1.0"/>
<circle cx="202.8" cy="336.1" r="2.15" fill="#7f7f7f"/>
<text x="213.7" y="338.20" font-size="5.98" font-weight="bold">S_1005_S2_5_RAN.csv</text>
<line x1="196.2" y1="345.1" x2="209.4" y2="345.1" stroke="#bcbd22" stroke-width="1.0"/>
<circle cx="202.8" cy="345.1" r="2.15" fill="#bcbd22"/>
<text x="213.7" y="347.20" font-size="5.98" font-weight="bold">S_1006_S1_5_RAN.csv</text>
<line x1="196.2" y1="354.1" x2="209.4" y2="354.1" stroke="#17becf" stroke-width="1.0"/>
<circle cx="202.8" cy="354.1" r="2.15" fill="#17becf"/>
<text x="213.7" y="356.20" font-size="5.98" font-weight="bold">S_1006_S2_5_RAN.csv</text>
<line x1="196.2" y1="363.1" x2="209.4" y2="363.1" stroke="#1f77b4" stroke-width="1.0"/>
<circle cx="202.8" cy="363.1" r="2.15" fill="#1f77b4"/>
<text x="213.7" y="365.20" font-size="5.98" font-weight="bold">S_1007_S1_5_RAN.csv</text>
<line x1="196.2" y1="372.1" x2="209.4" y2="372.1" stroke="#ff7f0e" stroke-width="1.0"/>
<circle cx="202.8" cy="372.1" r="2.15" fill="#ff7f0e"/>
<text x="213.7" y="374.20" font-size="5.98" font-weight="bold">S_1007_S2_5_RAN.csv</text>
<line x1="196.2" y1="381.1" x2="209.4" y2="381.1" stroke="#2ca02c" stroke-width="1.0"/>
<circle cx="202.8" cy="381.1" r="2.15" fill="#2ca02c"/>
<text x="213.7" y="383.20" font-size="5.98" font-weight="bold">S_1008_S1_5_RAN.csv</text>
<line x1="196.2" y1="390.1" x2="209.4" y2="390.1" stroke="#d62728" stroke-width="1.0"/>
<circle cx="202.8" cy="390.1" r="2.15" fill="#d62728"/>
<text x="213.7" y="392.20" font-size="5.98" font-weight="bold">S_1008_S2_5_RAN.csv</text>
<line x1="297.5" y1="336.1" x2="310.7" y2="336.1" stroke="#9467bd" stroke-width="1.0"/>
<circle cx="304.1" cy="336.1" r="2.15" fill="#9467bd"/>
<text x="315.0" y="338.20" font-size="5.98" font-weight="bold">S_1009_S1_5_RAN.csv</text>
<line x1="297.5" y1="345.1" x2="310.7" y2="345.1" stroke="#8c564b" stroke-width="1.0"/>
<circle cx="304.1" cy="345.1" r="2.15" fill="#8c564b"/>
<text x="315.0" y="347.20" font-size="5.98" font-weight="bold">S_1009_S2_5_RAN.csv</text>
<line x1="297.5" y1="354.1" x2="310.7" y2="354.1" stroke="#e377c2" stroke-width="1.0"/>
<circle cx="304.1" cy="354.1" r="2.15" fill="#e377c2"/>
<text x="315.0" y="356.20" font-size="5.98" font-weight="bold">S_1010_S1_5_RAN.csv</text>
<line x1="297.5" y1="363.1" x2="310.7" y2="363.1" stroke="#7f7f7f" stroke-width="1.0"/>
<circle cx="304.1" cy="363.1" r="2.15" fill="#7f7f7f"/>
<text x="315.0" y="365.20" font-size="5.98" font-weight="bold">S_1010_S2_5_RAN.csv</text>
<line x1="297.5" y1="372.1" x2="310.7" y2="372.1" stroke="#bcbd22" stroke-width="1.0"/>
<circle cx="304.1" cy="372.1" r="2.15" fill="#bcbd22"/>
<text x="315.0" y="374.20" font-size="5.98" font-weight="bold">S_1011_S1_5_RAN.csv</text>
<line x1="297.5" y1="381.1" x2="310.7" y2="381.1" stroke="#17becf" stroke-width="1.0"/>
<circle cx="304.1" cy="381.1" r="2.15" fill="#17becf"/>
<text x="315.0" y="383.20" font-size="5.98" font-weight="bold">S_1011_S2_5_RAN.csv</text>
<line x1="398.8" y1="336.1" x2="412.0" y2="336.1" stroke="#1f77b4" stroke-width="1.0"/>
<circle cx="405.4" cy="336.1" r="2.15" fill="#1f77b4"/>
<text x="416.3" y="338.20" font-size="5.98" font-weight="bold">S_1012_S1_5_RAN.csv</text>
<line x1="398.8" y1="345.1" x2="412.0" y2="345.1" stroke="#ff7f0e" stroke-width="1.0"/>
<circle cx="405.4" cy="345.1" r="2.15" fill="#ff7f0e"/>
<text x="416.3" y="347.20" font-size="5.98" font-weight="bold">S_1012_S2_5_RAN.csv</text>
<line x1="398.8" y1="354.1" x2="412.0" y2="354.1" stroke="#2ca02c" stroke-width="1.0"/>
<circle cx="405.4" cy="354.1" r="2.15" fill="#2ca02c"/>
<text x="416.3" y="356.20" font-size="5.98" font-weight="bold">S_1013_S1_5_RAN.csv</text>
<line x1="398.8" y1="363.1" x2="412.0" y2="363.1" stroke="#d62728" stroke-width="1.0"/>
<circle cx="405.4" cy="363.1" r="2.15" fill="#d62728"/>
<text x="416.3" y="365.20" font-size="5.98" font-weight="bold">S_1013_S2_5_RAN.csv</text>
<line x1="398.8" y1="372.1" x2="412.0" y2="372.1" stroke="#9467bd" stroke-width="1.0"/>
<circle cx="405.4" cy="372.1" r="2.15" fill="#9467bd"/>
<text x="416.3" y="374.20" font-size="5.98" font-weight="bold">S_1014_S1_5_RAN.csv</text>
<line x1="398.8" y1="381.1" x2="412.0" y2="381.1" stroke="#8c564b" stroke-width="1.0"/>
<circle cx="405.4" cy="381.1" r="2.15" fill="#8c564b"/>
<text x="416.3" y="383.20" font-size="5.98" font-weight="bold">S_1014_S2_5_RAN.csv</text>
<text x="292.3" y="328.40" text-anchor="middle" font-size="7.05">Task Type</text>
<polyline points="66.20,645.31 89.95,640.60 113.70,634.70 137.45,630.12 161.20,626.52 184.95,621.61 208.70,617.68 232.45,612.57 256.20,607.53 279.95,600.13 303.70,595.02 327.45,589.98 351.20,583.63 374.95,577.73 398.70,569.35 422.45,565.95 446.20,562.15 469.95,552.20 493.70,546.30 517.45,539.69" fill="none" stroke="#1f77b4" stroke-width="1.0" stroke-linejoin="round"/>
<g fill="#1f77b4"><circle cx="66.20" cy="645.31" r="2.15"/><circle cx="89.95" cy="640.60" r="2.15"/><circle cx="113.70" cy="634.70" r="2.15"/><circle cx="137.45" cy="630.12" r="2.15"/><circle cx="161.20" cy="626.52" r="2.15"/><circle cx="184.95" cy="621.61" r="2.15"/><circle cx="208.70" cy="617.68" r="2.15"/><circle cx="232.45" cy="612.57" r="2.15"/><circle cx="256.20" cy="607.53" r="2.15"/><circle cx="279.95" cy="600.13" r="2.15"/><circle cx="303.70" cy="595.02" r="2.15"/><circle cx="327.45" cy="589.98" r="2.15"/><circle cx="351.20" cy="583.63" r="2.15"/><circle cx="374.95" cy="577.73" r="2.15"/><circle cx="398.70" cy="569.35" r="2.15"/><circle cx="422.45" cy="565.95" r="2.15"/><circle cx="446.20" cy="562.15" r="2.15"/><circle cx="469.95" cy="552.20" r="2.15"/><circle cx="493.70" cy="546.30" r="2.15"/><circle cx="517.45" cy="539.69" r="2.15"/></g>
<polyline points="66.20,629.79 89.95,622.92 113.70,617.02 137.45,613.75 161.20,608.84 184.95,603.93 208.70,600.98 232.45,594.10 256.20,588.21 279.95,581.27 303.70,576.43 327.45,568.83 351.20,560.38 374.95,555.01 398.70,554.82 422.45,545.52 446.20,536.88 469.95,526.99 493.70,523.71 517.45,517.82" fill="none" stroke="#ff7f0e" stroke-width="1.0" stroke-linejoin="round"/>
<g fill="#ff7f0e"><circle cx="66.20" cy="629.79" r="2.15"/><circle cx="89.95" cy="622.92" r="2.15"/><circle cx="113.70" cy="617.02" r="2.15"/><circle cx="137.45" cy="613.75" r="2.15"/><circle cx="161.20" cy="608.84" r="2.15"/><circle cx="184.95" cy="603.93" r="2.15"/><circle cx="208.70" cy="600.98" r="2.15"/><circle cx="232.45" cy="594.10" r="2.15"/><circle cx="256.20" cy="588.21" r="2.15"/><circle cx="279.95" cy="581.27" r="2.15"/><circle cx="303.70" cy="576.43" r="2.15"/><circle cx="327.45" cy="568.83" r="2.15"/><circle cx="351.20" cy="560.38" r="2.15"/><circle cx="374.95" cy="555.01" r="2.15"/><circle cx="398.70" cy="554.82" r="2.15"/><circle cx="422.45" cy="545.52" r="2.15"/><circle cx="446.20" cy="536.88" r="2.15"/><circle cx="469.95" cy="526.99" r="2.15"/><circle cx="493.70" cy="523.71" r="2.15"/><circle cx="517.45" cy="517.82" r="2.15"/></g>
<polyline points="66.20,649.70 89.95,643.08 113.70,636.47 137.45,633.46 161.20,629.14 184.95,626.78 208.70,625.54 232.45,619.97 256.20,610.67 279.95,600.13 303.70,596.79 327.45,593.45 351.20,582.58 374.95,577.73 398.70,571.19 422.45,560.91 446.20,558.75 469.95,556.26 493.70,548.53 517.45,543.55" fill="none" stroke="#2ca02c" stroke-width="1.0" stroke-linejoin="round"/>
<g fill="#2ca02c"><circle cx="66.20" cy="649.70" r="2.15"/><circle cx="89.95" cy="643.08" r="2.15"/><circle cx="113.70" cy="636.47" r="2.15"/><circle cx="137.45" cy="633.46" r="2.15"/><circle cx="161.20" cy="629.14" r="2.15"/><circle cx="184.95" cy="626.78" r="2.15"/><circle cx="208.70" cy="625.54" r="2.15"/><circle cx="232.45" cy="619.97" r="2.15"/><circle cx="256.20" cy="610.67" r="2.15"/><circle cx="279.95" cy="600.13" r="2.15"/><circle cx="303.70" cy="596.79" r="2.15"/><circle cx="327.45" cy="593.45" r="2.15"/><circle cx="351.20" cy="582.58" r="2.15"/><circle cx="374.95" cy="577.73" r="2.15"/><circle cx="398.70" cy="571.19" r="2.15"/><circle cx="422.45" cy="560.91" r="2.15"/><circle cx="446.20" cy="558.75" r="2.15"/><circle cx="469.95" cy="556.26" r="2.15"/><circle cx="493.70" cy="548.53" r="2.15"/><circle cx="517.45" cy="543.55" r="2.15"/></g>
<polyline points="66.20,626.19 89.95,613.29 113.70,611.92 137.45,609.69 161.20,606.02 184.95,600.65 208.70,596.53 232.45,585.13 256.20,580.03 279.95,571.84 303.70,564.97 327.45,556.13 351.20,550.23 374.95,545.65 398.70,539.69 422.45,534.39 446.20,524.04 469.95,520.96 493.70,516.58 517.45,509.44" fill="none" stroke="#d62728" stroke-width="1.0" stroke-linejoin="round"/>
<g fill="#d62728"><circle cx="66.20" cy="626.19" r="2.15"/><circle cx="89.95" cy="613.29" r="2.15"/><circle cx="113.70" cy="611.92" r="2.15"/><circle cx="137.45" cy="609.69" r="2.15"/><circle cx="161.20" cy="606.02" r="2.15"/><circle cx="184.95" cy="600.65" r="2.15"/><circle cx="208.70" cy="596.53" r="2.15"/><circle cx="232.45" cy="585.13" r="2.15"/><circle cx="256.20" cy="580.03" r="2.15"/><circle cx="279.95" cy="571.84" r="2.15"/><circle cx="303.70" cy="564.97" r="2.15"/><circle cx="327.45" cy="556.13" r="2.15"/><circle cx="351.20" cy="550.23" r="2.15"/><circle cx="374.95" cy="545.65" r="2.15"/><circle cx="398.70" cy="539.69" r="2.15"/><circle cx="422.45" cy="534.39" r="2.15"/><circle cx="446.20" cy="524.04" r="2.15"/><circle cx="469.95" cy="520.96" r="2.15"/><circle cx="493.70" cy="516.58" r="2.15"/><circle cx="517.45" cy="509.44" r="2.15"/></g>
<polyline points="66.20,632.74 89.95,624.23 113.70,617.68 137.45,611.78 161.20,604.58 184.95,596.33 208.70,591.49 232.45,586.25 256.20,581.01 279.95,574.46 303.70,566.41 327.45,560.06 351.20,553.51 374.95,546.30 398.70,539.76 422.45,532.03 446.20,516.97 469.95,522.08 493.70,517.49 517.45,512.25" fill="none" stroke="#9467bd" stroke-width="1.0" stroke-linejoin="round"/>
<g fill="#9467bd"><circle cx="66.20" cy="632.74" r="2.15"/><circle cx="89.95" cy="624.23" r="2.15"/><circle cx="113.70" cy="617.68" r="2.15"/><circle cx="137.45" cy="611.78" r="2.15"/><circle cx="161.20" cy="604.58" r="2.15"/><circle cx="184.95" cy="596.33" r="2.15"/><circle cx="208.70" cy="591.49" r="2.15"/><circle cx="232.45" cy="586.25" r="2.15"/><circle cx="256.20" cy="581.01" r="2.15"/><circle cx="279.95" cy="574.46" r="2.15"/><circle cx="303.70" cy="566.41" r="2.15"/><circle cx="327.45" cy="560.06" r="2.15"/><circle cx="351.20" cy="553.51" r="2.15"/><circle cx="374.95" cy="546.30" r="2.15"/><circle cx="398.70" cy="539.76" r="2.15"/><circle cx="422.45" cy="532.03" r="2.15"/><circle cx="446.20" cy="516.97" r="2.15"/><circle cx="469.95" cy="522.08" r="2.15"/><circle cx="493.70" cy="517.49" r="2.15"/><circle cx="517.45" cy="512.25" r="2.15"/></g>
<polyline points="66.20,632.08 89.95,624.88 113.70,617.68 137.45,613.75 161.20,609.17 184.95,603.27 208.70,598.03 232.45,591.49 256.20,585.59 279.95,579.04 303.70,572.50 327.45,565.29 351.20,558.09 374.95,548.14 398.70,541.72 422.45,535.17 446.20,528.62 469.95,519.46 493.70,512.91 517.45,502.63" fill="none" stroke="#8c564b" stroke-width="1.0" stroke-linejoin="round"/>
<g fill="#8c564b"><circle cx="66.20" cy="632.08" r="2.15"/><circle cx="89.95" cy="624.88" r="2.15"/><circle cx="113.70" cy="617.68" r="2.15"/><circle cx="137.45" cy="613.75" r="2.15"/><circle cx="161.20" cy="609.17" r="2.15"/><circle cx="184.95" cy="603.27" r="2.15"/><circle cx="208.70" cy="598.03" r="2.15"/><circle cx="232.45" cy="591.49" r="2.15"/><circle cx="256.20" cy="585.59" r="2.15"/><circle cx="279.95" cy="579.04" r="2.15"/><circle cx="303.70" cy="572.50" r="2.15"/><circle cx="327.45" cy="565.29" r="2.15"/><circle cx="351.20" cy="558.09" r="2.15"/><circle cx="374.95" cy="548.14" r="2.15"/><circle cx="398.70" cy="541.72" r="2.15"/><circle cx="422.45" cy="535.17" r="2.15"/><circle cx="446.20" cy="528.62" r="2.15"/><circle cx="469.95" cy="519.46" r="2.15"/><circle cx="493.70" cy="512.91" r="2.15"/><circle cx="517.45" cy="502.63" r="2.15"/></g>
<polyline points="66.20,647.47 89.95,639.22 113.70,632.87 137.45,628.48 161.20,622.92 184.95,618.46 208.70,615.25 232.45,608.51 256.20,602.94 279.95,594.63 303.70,588.47 327.45,581.01 351.20,572.82 374.95,563.20 398.70,556.78 422.45,549.12 446.20,540.67 469.95,528.69 493.70,516.84 517.45,517.36" fill="none" stroke="#e377c2" stroke-width="1.0" stroke-linejoin="round"/>
<g fill="#e377c2"><circle cx="66.20" cy="647.47" r="2.15"/><circle cx="89.95" cy="639.22" r="2.15"/><circle cx="113.70" cy="632.87" r="2.15"/><circle cx="137.45" cy="628.48" r="2.15"/><circle cx="161.20" cy="622.92" r="2.15"/><circle cx="184.95" cy="618.46" r="2.15"/><circle cx="208.70" cy="615.25" r="2.15"/><circle cx="232.45" cy="608.51" r="2.15"/><circle cx="256.20" cy="602.94" r="2.15"/><circle cx="279.95" cy="594.63" r="2.15"/><circle cx="303.70" cy="588.47" r="2.15"/><circle cx="327.45" cy="581.01" r="2.15"/><circle cx="351.20" cy="572.82" r="2.15"/><circle cx="374.95" cy="563.20" r="2.15"/><circle cx="398.70" cy="556.78" r="2.15"/><circle cx="422.45" cy="549.12" r="2.15"/><circle cx="446.20" cy="540.67" r="2.15"/><circle cx="469.95" cy="528.69" r="2.15"/><circle cx="493.70" cy="516.84" r="2.15"/><circle cx="517.45" cy="517.36" r="2.15"/></g>
<polyline points="66.20,630.77 89.95,623.57 113.70,618.53 137.45,608.51 161.20,597.77 184.95,590.50 208.70,582.97 232.45,574.13 256.20,569.68 279.95,559.73 303.70,551.87 327.45,545.98 351.20,542.70 374.95,529.80 398.70,527.58 422.45,523.91 446.20,510.49 469.95,506.69 493.70,499.29 517.45,492.68" fill="none" stroke="#7f7f7f" stroke-width="1.0" stroke-linejoin="round"/>
<g fill="#7f7f7f"><circle cx="66.20" cy="630.77" r="2.15"/><circle cx="89.95" cy="623.57" r="2.15"/><circle cx="113.70" cy="618.53" r="2.15"/><circle cx="137.45" cy="608.51" r="2.15"/><circle cx="161.20" cy="597.77" r="2.15"/><circle cx="184.95" cy="590.50" r="2.15"/><circle cx="208.70" cy="582.97" r="2.15"/><circle cx="232.45" cy="574.13" r="2.15"/><circle cx="256.20" cy="569.68" r="2.15"/><circle cx="279.95" cy="559.73" r="2.15"/><circle cx="303.70" cy="551.87" r="2.15"/><circle cx="327.45" cy="545.98" r="2.15"/><circle cx="351.20" cy="542.70" r="2.15"/><circle cx="374.95" cy="529.80" r="2.15"/><circle cx="398.70" cy="527.58" r="2.15"/><circle cx="422.45" cy="523.91" r="2.15"/><circle cx="446.20" cy="510.49" r="2.15"/><circle cx="469.95" cy="506.69" r="2.15"/><circle cx="493.70" cy="499.29" r="2.15"/><circle cx="517.45" cy="492.68" r="2.15"/></g>
<polyline points="66.20,628.15 89.95,620.30 113.70,613.75 137.45,609.17 161.20,603.27 184.95,597.05 208.70,590.70 232.45,583.50 256.20,577.41 279.95,569.68 303.70,563.98 327.45,556.78 351.20,549.58 374.95,541.07 398.70,532.03 422.45,526.99 446.20,520.77 469.95,515.20 493.70,508.13 517.45,506.75" fill="none" stroke="#bcbd22" stroke-width="1.0" stroke-linejoin="round"/>
<g fill="#bcbd22"><circle cx="66.20" cy="628.15" r="2.15"/><circle cx="89.95" cy="620.30" r="2.15"/><circle cx="113.70" cy="613.75" r="2.15"/><circle cx="137.45" cy="609.17" r="2.15"/><circle cx="161.20" cy="603.27" r="2.15"/><circle cx="184.95" cy="597.05" r="2.15"/><circle cx="208.70" cy="590.70" r="2.15"/><circle cx="232.45" cy="583.50" r="2.15"/><circle cx="256.20" cy="577.41" r="2.15"/><circle cx="279.95" cy="569.68" r="2.15"/><circle cx="303.70" cy="563.98" r="2.15"/><circle cx="327.45" cy="556.78" r="2.15"/><circle cx="351.20" cy="549.58" r="2.15"/><circle cx="374.95" cy="541.07" r="2.15"/><circle cx="398.70" cy="532.03" r="2.15"/><circle cx="422.45" cy="526.99" r="2.15"/><circle cx="446.20" cy="520.77" r="2.15"/><circle cx="469.95" cy="515.20" r="2.15"/><circle cx="493.70" cy="508.13" r="2.15"/><circle cx="517.45" cy="506.75" r="2.15"/></g>
<polyline points="66.20,634.05 89.95,626.52 113.70,621.61 137.45,617.42 161.20,614.27 184.95,611.78 208.70,610.67 232.45,602.09 256.20,596.72 279.95,588.21 303.70,586.25 327.45,580.68 351.20,575.97 374.95,568.50 398.70,562.15 422.45,554.82 446.20,548.92 469.95,549.58 493.70,540.41 517.45,531.90" fill="none" stroke="#17becf" stroke-width="1.0" stroke-linejoin="round"/>
<g fill="#17becf"><circle cx="66.20" cy="634.05" r="2.15"/><circle cx="89.95" cy="626.52" r="2.15"/><circle cx="113.70" cy="621.61" r="2.15"/><circle cx="137.45" cy="617.42" r="2.15"/><circle cx="161.20" cy="614.27" r="2.15"/><circle cx="184.95" cy="611.78" r="2.15"/><circle cx="208.70" cy="610.67" r="2.15"/><circle cx="232.45" cy="602.09" r="2.15"/><circle cx="256.20" cy="596.72" r="2.15"/><circle cx="279.95" cy="588.21" r="2.15"/><circle cx="303.70" cy="586.25" r="2.15"/><circle cx="327.45" cy="580.68" r="2.15"/><circle cx="351.20" cy="575.97" r="2.15"/><circle cx="374.95" cy="568.50" r="2.15"/><circle cx="398.70" cy="562.15" r="2.15"/><circle cx="422.45" cy="554.82" r="2.15"/><circle cx="446.20" cy="548.92" r="2.15"/><circle cx="469.95" cy="549.58" r="2.15"/><circle cx="493.70" cy="540.41" r="2.15"/><circle cx="517.45" cy="531.90" r="2.15"/></g>
<polyline points="66.20,634.70 89.95,628.15 113.70,622.26 137.45,617.68 161.20,613.09 184.95,607.86 208.70,606.87 232.45,600.98 256.20,595.09 279.95,589.52 303.70,584.94 327.45,578.52 351.20,572.95 374.95,566.60 398.70,556.78 422.45,555.08 446.20,543.03 469.95,542.05 493.70,531.24 517.45,528.69" fill="none" stroke="#1f77b4" stroke-width="1.0" stroke-linejoin="round"/>
<g fill="#1f77b4"><circle cx="66.20" cy="634.70" r="2.15"/><circle cx="89.95" cy="628.15" r="2.15"/><circle cx="113.70" cy="622.26" r="2.15"/><circle cx="137.45" cy="617.68" r="2.15"/><circle cx="161.20" cy="613.09" r="2.15"/><circle cx="184.95" cy="607.86" r="2.15"/><circle cx="208.70" cy="606.87" r="2.15"/><circle cx="232.45" cy="600.98" r="2.15"/><circle cx="256.20" cy="595.09" r="2.15"/><circle cx="279.95" cy="589.52" r="2.15"/><circle cx="303.70" cy="584.94" r="2.15"/><circle cx="327.45" cy="578.52" r="2.15"/><circle cx="351.20" cy="572.95" r="2.15"/><circle cx="374.95" cy="566.60" r="2.15"/><circle cx="398.70" cy="556.78" r="2.15"/><circle cx="422.45" cy="555.08" r="2.15"/><circle cx="446.20" cy="543.03" r="2.15"/><circle cx="469.95" cy="542.05" r="2.15"/><circle cx="493.70" cy="531.24" r="2.15"/><circle cx="517.45" cy="528.69" r="2.15"/></g>
<polyline points="66.20,628.74 89.95,621.02 113.70,614.60 137.45,611.92 161.20,606.55 184.95,601.96 208.70,599.34 232.45,592.27 256.20,586.25 279.95,577.93 303.70,573.54 327.45,565.82 351.20,557.37 374.95,551.94 398.70,545.52 422.45,536.42 446.20,528.23 469.95,526.53 493.70,523.19 517.45,517.36" fill="none" stroke="#ff7f0e" stroke-width="1.0" stroke-linejoin="round"/>
<g fill="#ff7f0e"><circle cx="66.20" cy="628.74" r="2.15"/><circle cx="89.95" cy="621.02" r="2.15"/><circle cx="113.70" cy="614.60" r="2.15"/><circle cx="137.45" cy="611.92" r="2.15"/><circle cx="161.20" cy="606.55" r="2.15"/><circle cx="184.95" cy="601.96" r="2.15"/><circle cx="208.70" cy="599.34" r="2.15"/><circle cx="232.45" cy="592.27" r="2.15"/><circle cx="256.20" cy="586.25" r="2.15"/><circle cx="279.95" cy="577.93" r="2.15"/><circle cx="303.70" cy="573.54" r="2.15"/><circle cx="327.45" cy="565.82" r="2.15"/><circle cx="351.20" cy="557.37" r="2.15"/><circle cx="374.95" cy="551.94" r="2.15"/><circle cx="398.70" cy="545.52" r="2.15"/><circle cx="422.45" cy="536.42" r="2.15"/><circle cx="446.20" cy="528.23" r="2.15"/><circle cx="469.95" cy="526.53" r="2.15"/><circle cx="493.70" cy="523.19" r="2.15"/><circle cx="517.45" cy="517.36" r="2.15"/></g>
<polyline points="66.20,660.11 89.95,655.00 113.70,645.70 137.45,642.63 161.20,639.35 184.95,634.51 208.70,631.62 232.45,627.37 256.20,620.82 279.95,614.21 303.70,607.79 327.45,603.80 351.20,595.41 374.95,597.38 398.70,579.70 422.45,584.28 446.20,579.04 469.95,572.10 493.70,558.42 517.45,555.14" fill="none" stroke="#2ca02c" stroke-width="1.0" stroke-linejoin="round"/>
<g fill="#2ca02c"><circle cx="66.20" cy="660.11" r="2.15"/><circle cx="89.95" cy="655.00" r="2.15"/><circle cx="113.70" cy="645.70" r="2.15"/><circle cx="137.45" cy="642.63" r="2.15"/><circle cx="161.20" cy="639.35" r="2.15"/><circle cx="184.95" cy="634.51" r="2.15"/><circle cx="208.70" cy="631.62" r="2.15"/><circle cx="232.45" cy="627.37" r="2.15"/><circle cx="256.20" cy="620.82" r="2.15"/><circle cx="279.95" cy="614.21" r="2.15"/><circle cx="303.70" cy="607.79" r="2.15"/><circle cx="327.45" cy="603.80" r="2.15"/><circle cx="351.20" cy="595.41" r="2.15"/><circle cx="374.95" cy="597.38" r="2.15"/><circle cx="398.70" cy="579.70" r="2.15"/><circle cx="422.45" cy="584.28" r="2.15"/><circle cx="446.20" cy="579.04" r="2.15"/><circle cx="469.95" cy="572.10" r="2.15"/><circle cx="493.70" cy="558.42" r="2.15"/><circle cx="517.45" cy="555.14" r="2.15"/></g>
<polyline points="66.20,664.50 89.95,659.00 113.70,652.05 137.45,648.45 161.20,643.41 184.95,639.29 208.70,634.96 232.45,630.77 256.20,624.88 279.95,618.33 303.70,613.75 327.45,609.82 351.20,605.96 374.95,598.43 398.70,588.87 422.45,589.59 446.20,581.53 469.95,579.31 493.70,568.37 517.45,564.25" fill="none" stroke="#d62728" stroke-width="1.0" stroke-linejoin="round"/>
<g fill="#d62728"><circle cx="66.20" cy="664.50" r="2.15"/><circle cx="89.95" cy="659.00" r="2.15"/><circle cx="113.70" cy="652.05" r="2.15"/><circle cx="137.45" cy="648.45" r="2.15"/><circle cx="161.20" cy="643.41" r="2.15"/><circle cx="184.95" cy="639.29" r="2.15"/><circle cx="208.70" cy="634.96" r="2.15"/><circle cx="232.45" cy="630.77" r="2.15"/><circle cx="256.20" cy="624.88" r="2.15"/><circle cx="279.95" cy="618.33" r="2.15"/><circle cx="303.70" cy="613.75" r="2.15"/><circle cx="327.45" cy="609.82" r="2.15"/><circle cx="351.20" cy="605.96" r="2.15"/><circle cx="374.95" cy="598.43" r="2.15"/><circle cx="398.70" cy="588.87" r="2.15"/><circle cx="422.45" cy="589.59" r="2.15"/><circle cx="446.20" cy="581.53" r="2.15"/><circle cx="469.95" cy="579.31" r="2.15"/><circle cx="493.70" cy="568.37" r="2.15"/><circle cx="517.45" cy="564.25" r="2.15"/></g>
<polyline points="66.20,635.88 89.95,629.01 113.70,620.62 137.45,615.78 161.20,611.00 184.95,604.45 208.70,605.43 232.45,599.87 256.20,593.25 279.95,590.18 303.70,581.86 327.45,575.70 351.20,568.50 374.95,563.00 398.70,555.34 422.45,551.80 446.20,545.19 469.95,535.83 493.70,533.14 517.45,519.33" fill="none" stroke="#9467bd" stroke-width="1.0" stroke-linejoin="round"/>
<g fill="#9467bd"><circle cx="66.20" cy="635.88" r="2.15"/><circle cx="89.95" cy="629.01" r="2.15"/><circle cx="113.70" cy="620.62" r="2.15"/><circle cx="137.45" cy="615.78" r="2.15"/><circle cx="161.20" cy="611.00" r="2.15"/><circle cx="184.95" cy="604.45" r="2.15"/><circle cx="208.70" cy="605.43" r="2.15"/><circle cx="232.45" cy="599.87" r="2.15"/><circle cx="256.20" cy="593.25" r="2.15"/><circle cx="279.95" cy="590.18" r="2.15"/><circle cx="303.70" cy="581.86" r="2.15"/><circle cx="327.45" cy="575.70" r="2.15"/><circle cx="351.20" cy="568.50" r="2.15"/><circle cx="374.95" cy="563.00" r="2.15"/><circle cx="398.70" cy="555.34" r="2.15"/><circle cx="422.45" cy="551.80" r="2.15"/><circle cx="446.20" cy="545.19" r="2.15"/><circle cx="469.95" cy="535.83" r="2.15"/><circle cx="493.70" cy="533.14" r="2.15"/><circle cx="517.45" cy="519.33" r="2.15"/></g>
<polyline points="66.20,622.26 89.95,603.99 113.70,597.05 137.45,592.07 161.20,589.19 184.95,585.59 208.70,583.17 232.45,573.61 256.20,570.53 279.95,566.21 303.70,561.30 327.45,549.77 351.20,548.73 374.95,536.02 398.70,533.40 422.45,526.53 446.20,519.85 469.95,510.29 493.70,508.13 517.45,497.33" fill="none" stroke="#8c564b" stroke-width="1.0" stroke-linejoin="round"/>
<g fill="#8c564b"><circle cx="66.20" cy="622.26" r="2.15"/><circle cx="89.95" cy="603.99" r="2.15"/><circle cx="113.70" cy="597.05" r="2.15"/><circle cx="137.45" cy="592.07" r="2.15"/><circle cx="161.20" cy="589.19" r="2.15"/><circle cx="184.95" cy="585.59" r="2.15"/><circle cx="208.70" cy="583.17" r="2.15"/><circle cx="232.45" cy="573.61" r="2.15"/><circle cx="256.20" cy="570.53" r="2.15"/><circle cx="279.95" cy="566.21" r="2.15"/><circle cx="303.70" cy="561.30" r="2.15"/><circle cx="327.45" cy="549.77" r="2.15"/><circle cx="351.20" cy="548.73" r="2.15"/><circle cx="374.95" cy="536.02" r="2.15"/><circle cx="398.70" cy="533.40" r="2.15"/><circle cx="422.45" cy="526.53" r="2.15"/><circle cx="446.20" cy="519.85" r="2.15"/><circle cx="469.95" cy="510.29" r="2.15"/><circle cx="493.70" cy="508.13" r="2.15"/><circle cx="517.45" cy="497.33" r="2.15"/></g>
<polyline points="66.20,648.45 89.95,640.60 113.70,634.05 137.45,629.46 161.20,625.21 184.95,622.39 208.70,617.68 232.45,614.47 256.20,608.51 279.95,604.52 303.70,599.67 327.45,591.49 351.20,586.90 374.95,583.69 398.70,578.26 422.45,568.31 446.20,571.84 469.95,561.36 493.70,552.92 517.45,549.05" fill="none" stroke="#e377c2" stroke-width="1.0" stroke-linejoin="round"/>
<g fill="#e377c2"><circle cx="66.20" cy="648.45" r="2.15"/><circle cx="89.95" cy="640.60" r="2.15"/><circle cx="113.70" cy="634.05" r="2.15"/><circle cx="137.45" cy="629.46" r="2.15"/><circle cx="161.20" cy="625.21" r="2.15"/><circle cx="184.95" cy="622.39" r="2.15"/><circle cx="208.70" cy="617.68" r="2.15"/><circle cx="232.45" cy="614.47" r="2.15"/><circle cx="256.20" cy="608.51" r="2.15"/><circle cx="279.95" cy="604.52" r="2.15"/><circle cx="303.70" cy="599.67" r="2.15"/><circle cx="327.45" cy="591.49" r="2.15"/><circle cx="351.20" cy="586.90" r="2.15"/><circle cx="374.95" cy="583.69" r="2.15"/><circle cx="398.70" cy="578.26" r="2.15"/><circle cx="422.45" cy="568.31" r="2.15"/><circle cx="446.20" cy="571.84" r="2.15"/><circle cx="469.95" cy="561.36" r="2.15"/><circle cx="493.70" cy="552.92" r="2.15"/><circle cx="517.45" cy="549.05" r="2.15"/></g>
<polyline points="66.20,622.26 89.95,611.13 113.70,601.24 137.45,593.71 161.20,587.56 184.95,585.00 208.70,580.22 232.45,575.77 256.20,566.28 279.95,559.20 303.70,550.89 327.45,545.39 351.20,526.99 374.95,519.46 398.70,505.71 422.45,501.52 446.20,490.91 469.95,482.99 493.70,478.93 517.45,462.10" fill="none" stroke="#7f7f7f" stroke-width="1.0" stroke-linejoin="round"/>
<g fill="#7f7f7f"><circle cx="66.20" cy="622.26" r="2.15"/><circle cx="89.95" cy="611.13" r="2.15"/><circle cx="113.70" cy="601.24" r="2.15"/><circle cx="137.45" cy="593.71" r="2.15"/><circle cx="161.20" cy="587.56" r="2.15"/><circle cx="184.95" cy="585.00" r="2.15"/><circle cx="208.70" cy="580.22" r="2.15"/><circle cx="232.45" cy="575.77" r="2.15"/><circle cx="256.20" cy="566.28" r="2.15"/><circle cx="279.95" cy="559.20" r="2.15"/><circle cx="303.70" cy="550.89" r="2.15"/><circle cx="327.45" cy="545.39" r="2.15"/><circle cx="351.20" cy="526.99" r="2.15"/><circle cx="374.95" cy="519.46" r="2.15"/><circle cx="398.70" cy="505.71" r="2.15"/><circle cx="422.45" cy="501.52" r="2.15"/><circle cx="446.20" cy="490.91" r="2.15"/><circle cx="469.95" cy="482.99" r="2.15"/><circle cx="493.70" cy="478.93" r="2.15"/><circle cx="517.45" cy="462.10" r="2.15"/></g>
<polyline points="66.20,655.20 89.95,648.58 113.70,642.56 137.45,637.32 161.20,634.57 184.95,630.58 208.70,624.88 232.45,619.97 256.20,610.61 279.95,608.31 303.70,598.23 327.45,593.32 351.20,584.74 374.95,577.80 398.70,572.95 422.45,566.08 446.20,558.94 469.95,549.45 493.70,538.97 517.45,532.62" fill="none" stroke="#bcbd22" stroke-width="1.0" stroke-linejoin="round"/>
<g fill="#bcbd22"><circle cx="66.20" cy="655.20" r="2.15"/><circle cx="89.95" cy="648.58" r="2.15"/><circle cx="113.70" cy="642.56" r="2.15"/><circle cx="137.45" cy="637.32" r="2.15"/><circle cx="161.20" cy="634.57" r="2.15"/><circle cx="184.95" cy="630.58" r="2.15"/><circle cx="208.70" cy="624.88" r="2.15"/><circle cx="232.45" cy="619.97" r="2.15"/><circle cx="256.20" cy="610.61" r="2.15"/><circle cx="279.95" cy="608.31" r="2.15"/><circle cx="303.70" cy="598.23" r="2.15"/><circle cx="327.45" cy="593.32" r="2.15"/><circle cx="351.20" cy="584.74" r="2.15"/><circle cx="374.95" cy="577.80" r="2.15"/><circle cx="398.70" cy="572.95" r="2.15"/><circle cx="422.45" cy="566.08" r="2.15"/><circle cx="446.20" cy="558.94" r="2.15"/><circle cx="469.95" cy="549.45" r="2.15"/><circle cx="493.70" cy="538.97" r="2.15"/><circle cx="517.45" cy="532.62" r="2.15"/></g>
<polyline points="66.20,667.51 89.95,657.88 113.70,651.40 137.45,648.39 161.20,645.05 184.95,642.69 208.70,639.29 232.45,632.48 256.20,625.99 279.95,619.64 303.70,615.06 327.45,610.87 351.20,598.30 374.95,592.14 398.70,585.59 422.45,581.53 446.20,568.31 469.95,559.92 493.70,550.76 517.45,550.17" fill="none" stroke="#17becf" stroke-width="1.0" stroke-linejoin="round"/>
<g fill="#17becf"><circle cx="66.20" cy="667.51" r="2.15"/><circle cx="89.95" cy="657.88" r="2.15"/><circle cx="113.70" cy="651.40" r="2.15"/><circle cx="137.45" cy="648.39" r="2.15"/><circle cx="161.20" cy="645.05" r="2.15"/><circle cx="184.95" cy="642.69" r="2.15"/><circle cx="208.70" cy="639.29" r="2.15"/><circle cx="232.45" cy="632.48" r="2.15"/><circle cx="256.20" cy="625.99" r="2.15"/><circle cx="279.95" cy="619.64" r="2.15"/><circle cx="303.70" cy="615.06" r="2.15"/><circle cx="327.45" cy="610.87" r="2.15"/><circle cx="351.20" cy="598.30" r="2.15"/><circle cx="374.95" cy="592.14" r="2.15"/><circle cx="398.70" cy="585.59" r="2.15"/><circle cx="422.45" cy="581.53" r="2.15"/><circle cx="446.20" cy="568.31" r="2.15"/><circle cx="469.95" cy="559.92" r="2.15"/><circle cx="493.70" cy="550.76" r="2.15"/><circle cx="517.45" cy="550.17" r="2.15"/></g>
<polyline points="66.20,624.88 89.95,616.89 113.70,609.03 137.45,606.87 161.20,601.63 184.95,598.56 208.70,593.78 232.45,587.88 256.20,582.65 279.95,574.13 303.70,569.16 327.45,562.22 351.20,552.72 374.95,545.32 398.70,536.48 422.45,534.52 446.20,523.71 469.95,515.99 493.70,514.09 517.45,511.86" fill="none" stroke="#1f77b4" stroke-width="1.0" stroke-linejoin="round"/>
<g fill="#1f77b4"><circle cx="66.20" cy="624.88" r="2.15"/><circle cx="89.95" cy="616.89" r="2.15"/><circle cx="113.70" cy="609.03" r="2.15"/><circle cx="137.45" cy="606.87" r="2.15"/><circle cx="161.20" cy="601.63" r="2.15"/><circle cx="184.95" cy="598.56" r="2.15"/><circle cx="208.70" cy="593.78" r="2.15"/><circle cx="232.45" cy="587.88" r="2.15"/><circle cx="256.20" cy="582.65" r="2.15"/><circle cx="279.95" cy="574.13" r="2.15"/><circle cx="303.70" cy="569.16" r="2.15"/><circle cx="327.45" cy="562.22" r="2.15"/><circle cx="351.20" cy="552.72" r="2.15"/><circle cx="374.95" cy="545.32" r="2.15"/><circle cx="398.70" cy="536.48" r="2.15"/><circle cx="422.45" cy="534.52" r="2.15"/><circle cx="446.20" cy="523.71" r="2.15"/><circle cx="469.95" cy="515.99" r="2.15"/><circle cx="493.70" cy="514.09" r="2.15"/><circle cx="517.45" cy="511.86" r="2.15"/></g>
<polyline points="66.20,663.45 89.95,655.39 113.70,648.45 137.45,644.52 161.20,641.71 184.95,638.89 208.70,637.58 232.45,629.40 256.20,623.77 279.95,617.68 303.70,613.09 327.45,606.48 351.20,599.80 374.95,591.62 398.70,582.65 422.45,577.93 446.20,578.85 469.95,562.94 493.70,561.23 517.45,552.39" fill="none" stroke="#ff7f0e" stroke-width="1.0" stroke-linejoin="round"/>
<g fill="#ff7f0e"><circle cx="66.20" cy="663.45" r="2.15"/><circle cx="89.95" cy="655.39" r="2.15"/><circle cx="113.70" cy="648.45" r="2.15"/><circle cx="137.45" cy="644.52" r="2.15"/><circle cx="161.20" cy="641.71" r="2.15"/><circle cx="184.95" cy="638.89" r="2.15"/><circle cx="208.70" cy="637.58" r="2.15"/><circle cx="232.45" cy="629.40" r="2.15"/><circle cx="256.20" cy="623.77" r="2.15"/><circle cx="279.95" cy="617.68" r="2.15"/><circle cx="303.70" cy="613.09" r="2.15"/><circle cx="327.45" cy="606.48" r="2.15"/><circle cx="351.20" cy="599.80" r="2.15"/><circle cx="374.95" cy="591.62" r="2.15"/><circle cx="398.70" cy="582.65" r="2.15"/><circle cx="422.45" cy="577.93" r="2.15"/><circle cx="446.20" cy="578.85" r="2.15"/><circle cx="469.95" cy="562.94" r="2.15"/><circle cx="493.70" cy="561.23" r="2.15"/><circle cx="517.45" cy="552.39" r="2.15"/></g>
<polyline points="66.20,599.02 89.95,588.02 113.70,577.21 137.45,568.89 161.20,563.00 184.95,554.49 208.70,547.16 232.45,534.98 256.20,523.98 279.95,518.48 303.70,506.62 327.45,500.01 351.20,489.01 374.95,476.90 398.70,469.04 422.45,461.77 446.20,447.69 469.95,439.77 493.70,438.72 517.45,427.92" fill="none" stroke="#2ca02c" stroke-width="1.0" stroke-linejoin="round"/>
<g fill="#2ca02c"><circle cx="66.20" cy="599.02" r="2.15"/><circle cx="89.95" cy="588.02" r="2.15"/><circle cx="113.70" cy="577.21" r="2.15"/><circle cx="137.45" cy="568.89" r="2.15"/><circle cx="161.20" cy="563.00" r="2.15"/><circle cx="184.95" cy="554.49" r="2.15"/><circle cx="208.70" cy="547.16" r="2.15"/><circle cx="232.45" cy="534.98" r="2.15"/><circle cx="256.20" cy="523.98" r="2.15"/><circle cx="279.95" cy="518.48" r="2.15"/><circle cx="303.70" cy="506.62" r="2.15"/><circle cx="327.45" cy="500.01" r="2.15"/><circle cx="351.20" cy="489.01" r="2.15"/><circle cx="374.95" cy="476.90" r="2.15"/><circle cx="398.70" cy="469.04" r="2.15"/><circle cx="422.45" cy="461.77" r="2.15"/><circle cx="446.20" cy="447.69" r="2.15"/><circle cx="469.95" cy="439.77" r="2.15"/><circle cx="493.70" cy="438.72" r="2.15"/><circle cx="517.45" cy="427.92" r="2.15"/></g>
<polyline points="66.20,601.18 89.95,590.18 113.70,579.70 137.45,572.30 161.20,563.46 184.95,556.13 208.70,550.04 232.45,539.69 256.20,532.42 279.95,525.09 303.70,516.31 327.45,509.37 351.20,503.28 374.95,493.79 398.70,482.07 422.45,476.90 446.20,479.12 469.95,468.97 493.70,453.65 517.45,454.70" fill="none" stroke="#d62728" stroke-width="1.0" stroke-linejoin="round"/>
<g fill="#d62728"><circle cx="66.20" cy="601.18" r="2.15"/><circle cx="89.95" cy="590.18" r="2.15"/><circle cx="113.70" cy="579.70" r="2.15"/><circle cx="137.45" cy="572.30" r="2.15"/><circle cx="161.20" cy="563.46" r="2.15"/><circle cx="184.95" cy="556.13" r="2.15"/><circle cx="208.70" cy="550.04" r="2.15"/><circle cx="232.45" cy="539.69" r="2.15"/><circle cx="256.20" cy="532.42" r="2.15"/><circle cx="279.95" cy="525.09" r="2.15"/><circle cx="303.70" cy="516.31" r="2.15"/><circle cx="327.45" cy="509.37" r="2.15"/><circle cx="351.20" cy="503.28" r="2.15"/><circle cx="374.95" cy="493.79" r="2.15"/><circle cx="398.70" cy="482.07" r="2.15"/><circle cx="422.45" cy="476.90" r="2.15"/><circle cx="446.20" cy="479.12" r="2.15"/><circle cx="469.95" cy="468.97" r="2.15"/><circle cx="493.70" cy="453.65" r="2.15"/><circle cx="517.45" cy="454.70" r="2.15"/></g>
<polyline points="66.20,611.72 89.95,598.49 113.70,582.51 137.45,569.48 161.20,559.14 184.95,551.94 208.70,542.83 232.45,536.68 256.20,527.18 279.95,521.42 303.70,512.98 327.45,502.17 351.20,490.45 374.95,483.90 398.70,484.10 422.45,471.07 446.20,466.68 469.95,457.71 493.70,452.80 517.45,442.58" fill="none" stroke="#9467bd" stroke-width="1.0" stroke-linejoin="round"/>
<g fill="#9467bd"><circle cx="66.20" cy="611.72" r="2.15"/><circle cx="89.95" cy="598.49" r="2.15"/><circle cx="113.70" cy="582.51" r="2.15"/><circle cx="137.45" cy="569.48" r="2.15"/><circle cx="161.20" cy="559.14" r="2.15"/><circle cx="184.95" cy="551.94" r="2.15"/><circle cx="208.70" cy="542.83" r="2.15"/><circle cx="232.45" cy="536.68" r="2.15"/><circle cx="256.20" cy="527.18" r="2.15"/><circle cx="279.95" cy="521.42" r="2.15"/><circle cx="303.70" cy="512.98" r="2.15"/><circle cx="327.45" cy="502.17" r="2.15"/><circle cx="351.20" cy="490.45" r="2.15"/><circle cx="374.95" cy="483.90" r="2.15"/><circle cx="398.70" cy="484.10" r="2.15"/><circle cx="422.45" cy="471.07" r="2.15"/><circle cx="446.20" cy="466.68" r="2.15"/><circle cx="469.95" cy="457.71" r="2.15"/><circle cx="493.70" cy="452.80" r="2.15"/><circle cx="517.45" cy="442.58" r="2.15"/></g>
<polyline points="66.20,621.02 89.95,601.18 113.70,582.51 137.45,576.10 161.20,573.35 184.95,573.74 208.70,568.57 232.45,563.39 256.20,556.26 279.95,547.68 303.70,541.33 327.45,529.48 351.20,526.86 374.95,527.58 398.70,525.22 422.45,511.80 446.20,506.62 469.95,509.31 493.70,504.99 517.45,492.68" fill="none" stroke="#8c564b" stroke-width="1.0" stroke-linejoin="round"/>
<g fill="#8c564b"><circle cx="66.20" cy="621.02" r="2.15"/><circle cx="89.95" cy="601.18" r="2.15"/><circle cx="113.70" cy="582.51" r="2.15"/><circle cx="137.45" cy="576.10" r="2.15"/><circle cx="161.20" cy="573.35" r="2.15"/><circle cx="184.95" cy="573.74" r="2.15"/><circle cx="208.70" cy="568.57" r="2.15"/><circle cx="232.45" cy="563.39" r="2.15"/><circle cx="256.20" cy="556.26" r="2.15"/><circle cx="279.95" cy="547.68" r="2.15"/><circle cx="303.70" cy="541.33" r="2.15"/><circle cx="327.45" cy="529.48" r="2.15"/><circle cx="351.20" cy="526.86" r="2.15"/><circle cx="374.95" cy="527.58" r="2.15"/><circle cx="398.70" cy="525.22" r="2.15"/><circle cx="422.45" cy="511.80" r="2.15"/><circle cx="446.20" cy="506.62" r="2.15"/><circle cx="469.95" cy="509.31" r="2.15"/><circle cx="493.70" cy="504.99" r="2.15"/><circle cx="517.45" cy="492.68" r="2.15"/></g>
<rect x="43.8" y="416.2" width="497.49999999999994" height="263.2" fill="none" stroke="#000" stroke-width="0.5"/>
<line x1="66.20" y1="679.4" x2="66.20" y2="681.5" stroke="#000" stroke-width="0.5"/>
<text x="66.20" y="689.6" text-anchor="middle" font-size="7.0" font-weight="bold">0</text>
<line x1="113.70" y1="679.4" x2="113.70" y2="681.5" stroke="#000" stroke-width="0.5"/>
<text x="113.70" y="689.6" text-anchor="middle" font-size="7.0" font-weight="bold">2</text>
<line x1="161.20" y1="679.4" x2="161.20" y2="681.5" stroke="#000" stroke-width="0.5"/>
<text x="161.20" y="689.6" text-anchor="middle" font-size="7.0" font-weight="bold">4</text>
<line x1="208.70" y1="679.4" x2="208.70" y2="681.5" stroke="#000" stroke-width="0.5"/>
<text x="208.70" y="689.6" text-anchor="middle" font-size="7.0" font-weight="bold">6</text>
<line x1="256.20" y1="679.4" x2="256.20" y2="681.5" stroke="#000" stroke-width="0.5"/>
<text x="256.20" y="689.6" text-anchor="middle" font-size="7.0" font-weight="bold">8</text>
<line x1="303.70" y1="679.4" x2="303.70" y2="681.5" stroke="#000" stroke-width="0.5"/>
<text x="303.70" y="689.6" text-anchor="middle" font-size="7.0" font-weight="bold">10</text>
<line x1="351.20" y1="679.4" x2="351.20" y2="681.5" stroke="#000" stroke-width="0.5"/>
<text x="351.20" y="689.6" text-anchor="middle" font-size="7.0" font-weight="bold">12</text>
<line x1="398.70" y1="679.4" x2="398.70" y2="681.5" stroke="#000" stroke-width="0.5"/>
<text x="398.70" y="689.6" text-anchor="middle" font-size="7.0" font-weight="bold">14</text>
<line x1="446.20" y1="679.4" x2="446.20" y2="681.5" stroke="#000" stroke-width="0.5"/>
<text x="446.20" y="689.6" text-anchor="middle" font-size="7.0" font-weight="bold">16</text>
<line x1="493.70" y1="679.4" x2="493.70" y2="681.5" stroke="#000" stroke-width="0.5"/>
<text x="493.70" y="689.6" text-anchor="middle" font-size="7.0" font-weight="bold">18</text>
<line x1="541.20" y1="679.4" x2="541.20" y2="681.5" stroke="#000" stroke-width="0.5"/>
<text x="541.20" y="689.6" text-anchor="middle" font-size="7.0" font-weight="bold">20</text>
<line x1="41.699999999999996" y1="675.30" x2="43.8" y2="675.30" stroke="#000" stroke-width="0.5"/>
<text x="39.2" y="677.75" text-anchor="end" font-size="7.0" font-weight="bold">0.30</text>
<line x1="41.699999999999996" y1="642.56" x2="43.8" y2="642.56" stroke="#000" stroke-width="0.5"/>
<text x="39.2" y="645.01" text-anchor="end" font-size="7.0" font-weight="bold">0.35</text>
<line x1="41.699999999999996" y1="609.82" x2="43.8" y2="609.82" stroke="#000" stroke-width="0.5"/>
<text x="39.2" y="612.27" text-anchor="end" font-size="7.0" font-weight="bold">0.40</text>
<line x1="41.699999999999996" y1="577.08" x2="43.8" y2="577.08" stroke="#000" stroke-width="0.5"/>
<text x="39.2" y="579.53" text-anchor="end" font-size="7.0" font-weight="bold">0.45</text>
<line x1="41.699999999999996" y1="544.34" x2="43.8" y2="544.34" stroke="#000" stroke-width="0.5"/>
<text x="39.2" y="546.79" text-anchor="end" font-size="7.0" font-weight="bold">0.50</text>
<line x1="41.699999999999996" y1="511.60" x2="43.8" y2="511.60" stroke="#000" stroke-width="0.5"/>
<text x="39.2" y="514.05" text-anchor="end" font-size="7.0" font-weight="bold">0.55</text>
<line x1="41.699999999999996" y1="478.86" x2="43.8" y2="478.86" stroke="#000" stroke-width="0.5"/>
<text x="39.2" y="481.31" text-anchor="end" font-size="7.0" font-weight="bold">0.60</text>
<line x1="41.699999999999996" y1="446.12" x2="43.8" y2="446.12" stroke="#000" stroke-width="0.5"/>
<text x="39.2" y="448.57" text-anchor="end" font-size="7.0" font-weight="bold">0.65</text>
<text x="292.5" y="412.9" text-anchor="middle" font-size="9.55" font-weight="bold">(b): MES for task type: RAN - Vertical Gaze Position (column y)</text>
<text x="292.5" y="700.2" text-anchor="middle" font-size="8.25" font-weight="bold">Scale Factor</text>
<text transform="translate(17.8,548.1) rotate(-90)" text-anchor="middle" font-size="8.25" font-weight="bold">Sample Entropy</text>
<line x1="94.9" y1="726.9" x2="108.1" y2="726.9" stroke="#1f77b4" stroke-width="1.0"/>
<circle cx="101.5" cy="726.9" r="2.15" fill="#1f77b4"/>
<text x="112.4" y="729.00" font-size="5.98" font-weight="bold">S_1002_S1_5_RAN.csv</text>
<line x1="94.9" y1="735.9" x2="108.1" y2="735.9" stroke="#ff7f0e" stroke-width="1.0"/>
<circle cx="101.5" cy="735.9" r="2.15" fill="#ff7f0e"/>
<text x="112.4" y="738.00" font-size="5.98" font-weight="bold">S_1002_S2_5_RAN.csv</text>
<line x1="94.9" y1="744.9" x2="108.1" y2="744.9" stroke="#2ca02c" stroke-width="1.0"/>
<circle cx="101.5" cy="744.9" r="2.15" fill="#2ca02c"/>
<text x="112.4" y="747.00" font-size="5.98" font-weight="bold">S_1003_S1_5_RAN.csv</text>
<line x1="94.9" y1="753.9" x2="108.1" y2="753.9" stroke="#d62728" stroke-width="1.0"/>
<circle cx="101.5" cy="753.9" r="2.15" fill="#d62728"/>
<text x="112.4" y="756.00" font-size="5.98" font-weight="bold">S_1003_S2_5_RAN.csv</text>
<line x1="94.9" y1="762.9" x2="108.1" y2="762.9" stroke="#9467bd" stroke-width="1.0"/>
<circle cx="101.5" cy="762.9" r="2.15" fill="#9467bd"/>
<text x="112.4" y="765.00" font-size="5.98" font-weight="bold">S_1004_S1_5_RAN.csv</text>
<line x1="94.9" y1="771.9" x2="108.1" y2="771.9" stroke="#8c564b" stroke-width="1.0"/>
<circle cx="101.5" cy="771.9" r="2.15" fill="#8c564b"/>
<text x="112.4" y="774.00" font-size="5.98" font-weight="bold">S_1004_S2_5_RAN.csv</text>
<line x1="94.9" y1="780.9" x2="108.1" y2="780.9" stroke="#e377c2" stroke-width="1.0"/>
<circle cx="101.5" cy="780.9" r="2.15" fill="#e377c2"/>
<text x="112.4" y="783.00" font-size="5.98" font-weight="bold">S_1005_S1_5_RAN.csv</text>
<line x1="196.2" y1="726.9" x2="209.4" y2="726.9" stroke="#7f7f7f" stroke-width="1.0"/>
<circle cx="202.8" cy="726.9" r="2.15" fill="#7f7f7f"/>
<text x="213.7" y="729.00" font-size="5.98" font-weight="bold">S_1005_S2_5_RAN.csv</text>
<line x1="196.2" y1="735.9" x2="209.4" y2="735.9" stroke="#bcbd22" stroke-width="1.0"/>
<circle cx="202.8" cy="735.9" r="2.15" fill="#bcbd22"/>
<text x="213.7" y="738.00" font-size="5.98" font-weight="bold">S_1006_S1_5_RAN.csv</text>
<line x1="196.2" y1="744.9" x2="209.4" y2="744.9" stroke="#17becf" stroke-width="1.0"/>
<circle cx="202.8" cy="744.9" r="2.15" fill="#17becf"/>
<text x="213.7" y="747.00" font-size="5.98" font-weight="bold">S_1006_S2_5_RAN.csv</text>
<line x1="196.2" y1="753.9" x2="209.4" y2="753.9" stroke="#1f77b4" stroke-width="1.0"/>
<circle cx="202.8" cy="753.9" r="2.15" fill="#1f77b4"/>
<text x="213.7" y="756.00" font-size="5.98" font-weight="bold">S_1007_S1_5_RAN.csv</text>
<line x1="196.2" y1="762.9" x2="209.4" y2="762.9" stroke="#ff7f0e" stroke-width="1.0"/>
<circle cx="202.8" cy="762.9" r="2.15" fill="#ff7f0e"/>
<text x="213.7" y="765.00" font-size="5.98" font-weight="bold">S_1007_S2_5_RAN.csv</text>
<line x1="196.2" y1="771.9" x2="209.4" y2="771.9" stroke="#2ca02c" stroke-width="1.0"/>
<circle cx="202.8" cy="771.9" r="2.15" fill="#2ca02c"/>
<text x="213.7" y="774.00" font-size="5.98" font-weight="bold">S_1008_S1_5_RAN.csv</text>
<line x1="196.2" y1="780.9" x2="209.4" y2="780.9" stroke="#d62728" stroke-width="1.0"/>
<circle cx="202.8" cy="780.9" r="2.15" fill="#d62728"/>
<text x="213.7" y="783.00" font-size="5.98" font-weight="bold">S_1008_S2_5_RAN.csv</text>
<line x1="297.5" y1="726.9" x2="310.7" y2="726.9" stroke="#9467bd" stroke-width="1.0"/>
<circle cx="304.1" cy="726.9" r="2.15" fill="#9467bd"/>
<text x="315.0" y="729.00" font-size="5.98" font-weight="bold">S_1009_S1_5_RAN.csv</text>
<line x1="297.5" y1="735.9" x2="310.7" y2="735.9" stroke="#8c564b" stroke-width="1.0"/>
<circle cx="304.1" cy="735.9" r="2.15" fill="#8c564b"/>
<text x="315.0" y="738.00" font-size="5.98" font-weight="bold">S_1009_S2_5_RAN.csv</text>
<line x1="297.5" y1="744.9" x2="310.7" y2="744.9" stroke="#e377c2" stroke-width="1.0"/>
<circle cx="304.1" cy="744.9" r="2.15" fill="#e377c2"/>
<text x="315.0" y="747.00" font-size="5.98" font-weight="bold">S_1010_S1_5_RAN.csv</text>
<line x1="297.5" y1="753.9" x2="310.7" y2="753.9" stroke="#7f7f7f" stroke-width="1.0"/>
<circle cx="304.1" cy="753.9" r="2.15" fill="#7f7f7f"/>
<text x="315.0" y="756.00" font-size="5.98" font-weight="bold">S_1010_S2_5_RAN.csv</text>
<line x1="297.5" y1="762.9" x2="310.7" y2="762.9" stroke="#bcbd22" stroke-width="1.0"/>
<circle cx="304.1" cy="762.9" r="2.15" fill="#bcbd22"/>
<text x="315.0" y="765.00" font-size="5.98" font-weight="bold">S_1011_S1_5_RAN.csv</text>
<line x1="297.5" y1="771.9" x2="310.7" y2="771.9" stroke="#17becf" stroke-width="1.0"/>
<circle cx="304.1" cy="771.9" r="2.15" fill="#17becf"/>
<text x="315.0" y="774.00" font-size="5.98" font-weight="bold">S_1011_S2_5_RAN.csv</text>
<line x1="398.8" y1="726.9" x2="412.0" y2="726.9" stroke="#1f77b4" stroke-width="1.0"/>
<circle cx="405.4" cy="726.9" r="2.15" fill="#1f77b4"/>
<text x="416.3" y="729.00" font-size="5.98" font-weight="bold">S_1012_S1_5_RAN.csv</text>
<line x1="398.8" y1="735.9" x2="412.0" y2="735.9" stroke="#ff7f0e" stroke-width="1.0"/>
<circle cx="405.4" cy="735.9" r="2.15" fill="#ff7f0e"/>
<text x="416.3" y="738.00" font-size="5.98" font-weight="bold">S_1012_S2_5_RAN.csv</text>
<line x1="398.8" y1="744.9" x2="412.0" y2="744.9" stroke="#2ca02c" stroke-width="1.0"/>
<circle cx="405.4" cy="744.9" r="2.15" fill="#2ca02c"/>
<text x="416.3" y="747.00" font-size="5.98" font-weight="bold">S_1013_S1_5_RAN.csv</text>
<line x1="398.8" y1="753.9" x2="412.0" y2="753.9" stroke="#d62728" stroke-width="1.0"/>
<circle cx="405.4" cy="753.9" r="2.15" fill="#d62728"/>
<text x="416.3" y="756.00" font-size="5.98" font-weight="bold">S_1013_S2_5_RAN.csv</text>
<line x1="398.8" y1="762.9" x2="412.0" y2="762.9" stroke="#9467bd" stroke-width="1.0"/>
<circle cx="405.4" cy="762.9" r="2.15" fill="#9467bd"/>
<text x="416.3" y="765.00" font-size="5.98" font-weight="bold">S_1014_S1_5_RAN.csv</text>
<line x1="398.8" y1="771.9" x2="412.0" y2="771.9" stroke="#8c564b" stroke-width="1.0"/>
<circle cx="405.4" cy="771.9" r="2.15" fill="#8c564b"/>
<text x="416.3" y="774.00" font-size="5.98" font-weight="bold">S_1014_S2_5_RAN.csv</text>
</svg></body></html>
